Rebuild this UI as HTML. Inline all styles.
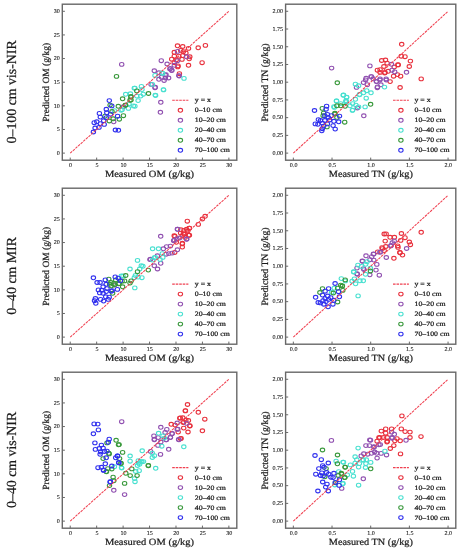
<!DOCTYPE html>
<html><head><meta charset="utf-8"><style>
html,body{margin:0;padding:0;background:#fff;width:463px;height:550px;overflow:hidden}
svg{display:block;will-change:transform;filter:blur(0.3px)}
text{font-family:"Liberation Serif",serif;fill:#1a1a1a;stroke:#1a1a1a;stroke-width:0.22px;text-rendering:geometricPrecision}
.tk text{stroke-width:0.1px}
</style></head><body>
<svg width="463" height="550" viewBox="0 0 463 550">
<g fill="none" stroke-width="1.1">
<ellipse cx="177.5" cy="45.8" rx="2.2" ry="1.9" stroke="#e8303c"/>
<ellipse cx="182.7" cy="46.5" rx="2.2" ry="1.9" stroke="#e8303c"/>
<ellipse cx="188.5" cy="48.4" rx="2.2" ry="1.9" stroke="#e8303c"/>
<ellipse cx="198.2" cy="47.8" rx="2.2" ry="1.9" stroke="#e8303c"/>
<ellipse cx="205.4" cy="45.4" rx="2.2" ry="1.9" stroke="#e8303c"/>
<ellipse cx="174.3" cy="52.3" rx="2.2" ry="1.9" stroke="#e8303c"/>
<ellipse cx="180.7" cy="50.4" rx="2.2" ry="1.9" stroke="#e8303c"/>
<ellipse cx="183.3" cy="51.7" rx="2.2" ry="1.9" stroke="#e8303c"/>
<ellipse cx="185.9" cy="53.0" rx="2.2" ry="1.9" stroke="#e8303c"/>
<ellipse cx="174.3" cy="56.2" rx="2.2" ry="1.9" stroke="#e8303c"/>
<ellipse cx="178.8" cy="56.2" rx="2.2" ry="1.9" stroke="#e8303c"/>
<ellipse cx="182.7" cy="55.6" rx="2.2" ry="1.9" stroke="#e8303c"/>
<ellipse cx="189.8" cy="56.8" rx="2.2" ry="1.9" stroke="#e8303c"/>
<ellipse cx="171.7" cy="59.2" rx="2.2" ry="1.9" stroke="#e8303c"/>
<ellipse cx="176.2" cy="60.1" rx="2.2" ry="1.9" stroke="#e8303c"/>
<ellipse cx="182.0" cy="59.4" rx="2.2" ry="1.9" stroke="#e8303c"/>
<ellipse cx="189.2" cy="58.8" rx="2.2" ry="1.9" stroke="#e8303c"/>
<ellipse cx="174.3" cy="62.7" rx="2.2" ry="1.9" stroke="#e8303c"/>
<ellipse cx="178.1" cy="65.9" rx="2.2" ry="1.9" stroke="#e8303c"/>
<ellipse cx="188.5" cy="65.3" rx="2.2" ry="1.9" stroke="#e8303c"/>
<ellipse cx="202.1" cy="62.7" rx="2.2" ry="1.9" stroke="#e8303c"/>
<ellipse cx="179.4" cy="73.7" rx="2.2" ry="1.9" stroke="#e8303c"/>
<ellipse cx="177.7" cy="66.9" rx="2.2" ry="1.9" stroke="#e8303c"/>
<ellipse cx="113.7" cy="121.8" rx="2.2" ry="1.9" stroke="#9050b0"/>
<ellipse cx="121.7" cy="64.4" rx="2.2" ry="1.9" stroke="#9050b0"/>
<ellipse cx="123.5" cy="106.8" rx="2.2" ry="1.9" stroke="#9050b0"/>
<ellipse cx="154.3" cy="70.8" rx="2.2" ry="1.9" stroke="#9050b0"/>
<ellipse cx="158.9" cy="72.8" rx="2.2" ry="1.9" stroke="#9050b0"/>
<ellipse cx="169.9" cy="68.9" rx="2.2" ry="1.9" stroke="#9050b0"/>
<ellipse cx="171.8" cy="70.2" rx="2.2" ry="1.9" stroke="#9050b0"/>
<ellipse cx="166.0" cy="74.7" rx="2.2" ry="1.9" stroke="#9050b0"/>
<ellipse cx="161.5" cy="77.3" rx="2.2" ry="1.9" stroke="#9050b0"/>
<ellipse cx="165.4" cy="78.0" rx="2.2" ry="1.9" stroke="#9050b0"/>
<ellipse cx="168.6" cy="78.0" rx="2.2" ry="1.9" stroke="#9050b0"/>
<ellipse cx="164.1" cy="80.5" rx="2.2" ry="1.9" stroke="#9050b0"/>
<ellipse cx="158.9" cy="79.3" rx="2.2" ry="1.9" stroke="#9050b0"/>
<ellipse cx="151.1" cy="84.4" rx="2.2" ry="1.9" stroke="#9050b0"/>
<ellipse cx="155.0" cy="87.7" rx="2.2" ry="1.9" stroke="#9050b0"/>
<ellipse cx="155.2" cy="87.3" rx="2.2" ry="1.9" stroke="#9050b0"/>
<ellipse cx="160.8" cy="102.3" rx="2.2" ry="1.9" stroke="#9050b0"/>
<ellipse cx="160.4" cy="112.3" rx="2.2" ry="1.9" stroke="#9050b0"/>
<ellipse cx="179.2" cy="76.0" rx="2.2" ry="1.9" stroke="#9050b0"/>
<ellipse cx="177.5" cy="51.4" rx="2.2" ry="1.9" stroke="#9050b0"/>
<ellipse cx="186.6" cy="56.8" rx="2.2" ry="1.9" stroke="#9050b0"/>
<ellipse cx="177.5" cy="60.7" rx="2.2" ry="1.9" stroke="#9050b0"/>
<ellipse cx="161.3" cy="60.7" rx="2.2" ry="1.9" stroke="#9050b0"/>
<ellipse cx="167.1" cy="64.0" rx="2.2" ry="1.9" stroke="#9050b0"/>
<ellipse cx="174.3" cy="65.3" rx="2.2" ry="1.9" stroke="#9050b0"/>
<ellipse cx="170.4" cy="68.5" rx="2.2" ry="1.9" stroke="#9050b0"/>
<ellipse cx="171.7" cy="70.5" rx="2.2" ry="1.9" stroke="#9050b0"/>
<ellipse cx="178.8" cy="75.6" rx="2.2" ry="1.9" stroke="#9050b0"/>
<ellipse cx="165.2" cy="75.0" rx="2.2" ry="1.9" stroke="#9050b0"/>
<ellipse cx="121.0" cy="110.2" rx="2.2" ry="1.9" stroke="#48e0d0"/>
<ellipse cx="114.4" cy="110.6" rx="2.2" ry="1.9" stroke="#48e0d0"/>
<ellipse cx="122.1" cy="109.7" rx="2.2" ry="1.9" stroke="#48e0d0"/>
<ellipse cx="125.7" cy="94.3" rx="2.2" ry="1.9" stroke="#48e0d0"/>
<ellipse cx="130.4" cy="93.8" rx="2.2" ry="1.9" stroke="#48e0d0"/>
<ellipse cx="134.3" cy="88.2" rx="2.2" ry="1.9" stroke="#48e0d0"/>
<ellipse cx="133.4" cy="105.9" rx="2.2" ry="1.9" stroke="#48e0d0"/>
<ellipse cx="134.9" cy="88.1" rx="2.2" ry="1.9" stroke="#48e0d0"/>
<ellipse cx="141.4" cy="86.4" rx="2.2" ry="1.9" stroke="#48e0d0"/>
<ellipse cx="142.0" cy="89.6" rx="2.2" ry="1.9" stroke="#48e0d0"/>
<ellipse cx="136.8" cy="96.1" rx="2.2" ry="1.9" stroke="#48e0d0"/>
<ellipse cx="140.7" cy="96.1" rx="2.2" ry="1.9" stroke="#48e0d0"/>
<ellipse cx="143.3" cy="94.2" rx="2.2" ry="1.9" stroke="#48e0d0"/>
<ellipse cx="138.1" cy="100.6" rx="2.2" ry="1.9" stroke="#48e0d0"/>
<ellipse cx="134.9" cy="106.2" rx="2.2" ry="1.9" stroke="#48e0d0"/>
<ellipse cx="129.0" cy="103.9" rx="2.2" ry="1.9" stroke="#48e0d0"/>
<ellipse cx="128.4" cy="108.4" rx="2.2" ry="1.9" stroke="#48e0d0"/>
<ellipse cx="155.0" cy="75.4" rx="2.2" ry="1.9" stroke="#48e0d0"/>
<ellipse cx="162.8" cy="73.4" rx="2.2" ry="1.9" stroke="#48e0d0"/>
<ellipse cx="152.4" cy="84.4" rx="2.2" ry="1.9" stroke="#48e0d0"/>
<ellipse cx="163.4" cy="89.6" rx="2.2" ry="1.9" stroke="#48e0d0"/>
<ellipse cx="155.6" cy="95.5" rx="2.2" ry="1.9" stroke="#48e0d0"/>
<ellipse cx="155.2" cy="95.1" rx="2.2" ry="1.9" stroke="#48e0d0"/>
<ellipse cx="163.6" cy="89.9" rx="2.2" ry="1.9" stroke="#48e0d0"/>
<ellipse cx="184.0" cy="78.4" rx="2.2" ry="1.9" stroke="#48e0d0"/>
<ellipse cx="162.0" cy="73.0" rx="2.2" ry="1.9" stroke="#48e0d0"/>
<ellipse cx="110.1" cy="105.1" rx="2.2" ry="1.9" stroke="#38983a"/>
<ellipse cx="122.6" cy="98.8" rx="2.2" ry="1.9" stroke="#38983a"/>
<ellipse cx="118.3" cy="106.3" rx="2.2" ry="1.9" stroke="#38983a"/>
<ellipse cx="125.7" cy="105.1" rx="2.2" ry="1.9" stroke="#38983a"/>
<ellipse cx="130.9" cy="96.8" rx="2.2" ry="1.9" stroke="#38983a"/>
<ellipse cx="130.0" cy="100.3" rx="2.2" ry="1.9" stroke="#38983a"/>
<ellipse cx="109.3" cy="121.0" rx="2.2" ry="1.9" stroke="#38983a"/>
<ellipse cx="113.2" cy="118.8" rx="2.2" ry="1.9" stroke="#38983a"/>
<ellipse cx="119.3" cy="119.2" rx="2.2" ry="1.9" stroke="#38983a"/>
<ellipse cx="105.0" cy="116.2" rx="2.2" ry="1.9" stroke="#38983a"/>
<ellipse cx="112.0" cy="111.5" rx="2.2" ry="1.9" stroke="#38983a"/>
<ellipse cx="123.4" cy="115.7" rx="2.2" ry="1.9" stroke="#38983a"/>
<ellipse cx="116.5" cy="76.4" rx="2.2" ry="1.9" stroke="#38983a"/>
<ellipse cx="136.8" cy="90.9" rx="2.2" ry="1.9" stroke="#38983a"/>
<ellipse cx="148.5" cy="93.5" rx="2.2" ry="1.9" stroke="#38983a"/>
<ellipse cx="131.0" cy="96.7" rx="2.2" ry="1.9" stroke="#38983a"/>
<ellipse cx="131.0" cy="100.0" rx="2.2" ry="1.9" stroke="#38983a"/>
<ellipse cx="125.2" cy="105.2" rx="2.2" ry="1.9" stroke="#38983a"/>
<ellipse cx="106.3" cy="109.3" rx="2.2" ry="1.9" stroke="#3030ee"/>
<ellipse cx="106.8" cy="112.8" rx="2.2" ry="1.9" stroke="#3030ee"/>
<ellipse cx="99.4" cy="113.4" rx="2.2" ry="1.9" stroke="#3030ee"/>
<ellipse cx="110.5" cy="114.2" rx="2.2" ry="1.9" stroke="#3030ee"/>
<ellipse cx="100.3" cy="117.1" rx="2.2" ry="1.9" stroke="#3030ee"/>
<ellipse cx="106.3" cy="117.7" rx="2.2" ry="1.9" stroke="#3030ee"/>
<ellipse cx="117.6" cy="116.2" rx="2.2" ry="1.9" stroke="#3030ee"/>
<ellipse cx="94.2" cy="122.7" rx="2.2" ry="1.9" stroke="#3030ee"/>
<ellipse cx="96.8" cy="121.8" rx="2.2" ry="1.9" stroke="#3030ee"/>
<ellipse cx="100.3" cy="123.6" rx="2.2" ry="1.9" stroke="#3030ee"/>
<ellipse cx="103.7" cy="120.8" rx="2.2" ry="1.9" stroke="#3030ee"/>
<ellipse cx="104.2" cy="124.4" rx="2.2" ry="1.9" stroke="#3030ee"/>
<ellipse cx="95.1" cy="128.0" rx="2.2" ry="1.9" stroke="#3030ee"/>
<ellipse cx="99.0" cy="127.4" rx="2.2" ry="1.9" stroke="#3030ee"/>
<ellipse cx="93.4" cy="132.0" rx="2.2" ry="1.9" stroke="#3030ee"/>
<ellipse cx="115.4" cy="130.0" rx="2.2" ry="1.9" stroke="#3030ee"/>
<ellipse cx="118.4" cy="130.3" rx="2.2" ry="1.9" stroke="#3030ee"/>
<ellipse cx="109.3" cy="100.6" rx="2.2" ry="1.9" stroke="#3030ee"/>
<ellipse cx="111.8" cy="105.9" rx="2.2" ry="1.9" stroke="#3030ee"/>
</g>
<line x1="70.23" y1="153.11" x2="228.87" y2="11.29" stroke="#f04050" stroke-width="1.05" stroke-dasharray="2.6 0.9"/>
<rect x="62.30" y="4.20" width="174.50" height="156.00" fill="none" stroke="#686868" stroke-width="1.4"/>
<g stroke="#686868" stroke-width="1.0">
<line x1="70.23" y1="160.20" x2="70.23" y2="157.60"/>
<line x1="96.67" y1="160.20" x2="96.67" y2="157.60"/>
<line x1="123.11" y1="160.20" x2="123.11" y2="157.60"/>
<line x1="149.55" y1="160.20" x2="149.55" y2="157.60"/>
<line x1="175.99" y1="160.20" x2="175.99" y2="157.60"/>
<line x1="202.43" y1="160.20" x2="202.43" y2="157.60"/>
<line x1="228.87" y1="160.20" x2="228.87" y2="157.60"/>
<line x1="62.30" y1="153.11" x2="64.90" y2="153.11"/>
<line x1="62.30" y1="129.47" x2="64.90" y2="129.47"/>
<line x1="62.30" y1="105.84" x2="64.90" y2="105.84"/>
<line x1="62.30" y1="82.20" x2="64.90" y2="82.20"/>
<line x1="62.30" y1="58.56" x2="64.90" y2="58.56"/>
<line x1="62.30" y1="34.93" x2="64.90" y2="34.93"/>
<line x1="62.30" y1="11.29" x2="64.90" y2="11.29"/>
</g>
<g font-size="5.9" text-anchor="middle" class="tk">
<text transform="translate(70.53,166.70) scale(1.03,1)">0</text>
<text transform="translate(96.97,166.70) scale(1.03,1)">5</text>
<text transform="translate(123.41,166.70) scale(1.03,1)">10</text>
<text transform="translate(149.85,166.70) scale(1.03,1)">15</text>
<text transform="translate(176.29,166.70) scale(1.03,1)">20</text>
<text transform="translate(202.73,166.70) scale(1.03,1)">25</text>
<text transform="translate(229.17,166.70) scale(1.03,1)">30</text>
</g><g font-size="5.9" text-anchor="end" class="tk">
<text transform="translate(59.70,154.91) scale(1.03,1)">0</text>
<text transform="translate(59.70,131.27) scale(1.03,1)">5</text>
<text transform="translate(59.70,107.64) scale(1.03,1)">10</text>
<text transform="translate(59.70,84.00) scale(1.03,1)">15</text>
<text transform="translate(59.70,60.36) scale(1.03,1)">20</text>
<text transform="translate(59.70,36.73) scale(1.03,1)">25</text>
<text transform="translate(59.70,13.09) scale(1.03,1)">30</text>
</g>
<text transform="translate(149.45,176.90) scale(1.104,1)" font-size="9.5" text-anchor="middle">Measured OM (g/kg)</text>
<text transform="translate(48.60,82.30) rotate(-90) scale(1,1.0)" font-size="9.46" text-anchor="middle">Predicted OM (g/kg)</text>
<line x1="172.20" y1="100.30" x2="188.40" y2="100.30" stroke="#f04050" stroke-width="1.05" stroke-dasharray="2.6 0.9"/>
<g font-size="6.7"><text transform="translate(194.80,102.20) scale(1.17,1)">y = x</text>
<text transform="translate(194.80,112.20) scale(1.17,1)">0–10 cm</text>
<text transform="translate(194.80,122.20) scale(1.17,1)">10–20 cm</text>
<text transform="translate(194.80,132.20) scale(1.17,1)">20–40 cm</text>
<text transform="translate(194.80,142.20) scale(1.17,1)">40–70 cm</text>
<text transform="translate(194.80,152.20) scale(1.17,1)">70–100 cm</text>
</g><g fill="none" stroke-width="1.1">
<ellipse cx="180.4" cy="110.3" rx="2.2" ry="1.9" stroke="#e8303c"/>
<ellipse cx="180.4" cy="120.3" rx="2.2" ry="1.9" stroke="#9050b0"/>
<ellipse cx="180.4" cy="130.3" rx="2.2" ry="1.9" stroke="#48e0d0"/>
<ellipse cx="180.4" cy="140.3" rx="2.2" ry="1.9" stroke="#38983a"/>
<ellipse cx="180.4" cy="150.3" rx="2.2" ry="1.9" stroke="#3030ee"/>
</g>
<g fill="none" stroke-width="1.1">
<ellipse cx="401.7" cy="44.3" rx="2.2" ry="1.9" stroke="#e8303c"/>
<ellipse cx="401.2" cy="56.2" rx="2.2" ry="1.9" stroke="#e8303c"/>
<ellipse cx="405.0" cy="56.7" rx="2.2" ry="1.9" stroke="#e8303c"/>
<ellipse cx="410.4" cy="61.1" rx="2.2" ry="1.9" stroke="#e8303c"/>
<ellipse cx="409.3" cy="66.5" rx="2.2" ry="1.9" stroke="#e8303c"/>
<ellipse cx="381.7" cy="60.5" rx="2.2" ry="1.9" stroke="#e8303c"/>
<ellipse cx="385.5" cy="60.0" rx="2.2" ry="1.9" stroke="#e8303c"/>
<ellipse cx="387.1" cy="63.2" rx="2.2" ry="1.9" stroke="#e8303c"/>
<ellipse cx="383.9" cy="66.5" rx="2.2" ry="1.9" stroke="#e8303c"/>
<ellipse cx="394.2" cy="67.0" rx="2.2" ry="1.9" stroke="#e8303c"/>
<ellipse cx="397.9" cy="64.8" rx="2.2" ry="1.9" stroke="#e8303c"/>
<ellipse cx="377.4" cy="70.2" rx="2.2" ry="1.9" stroke="#e8303c"/>
<ellipse cx="380.1" cy="69.7" rx="2.2" ry="1.9" stroke="#e8303c"/>
<ellipse cx="380.1" cy="72.4" rx="2.2" ry="1.9" stroke="#e8303c"/>
<ellipse cx="385.0" cy="72.4" rx="2.2" ry="1.9" stroke="#e8303c"/>
<ellipse cx="388.2" cy="71.3" rx="2.2" ry="1.9" stroke="#e8303c"/>
<ellipse cx="393.6" cy="76.2" rx="2.2" ry="1.9" stroke="#e8303c"/>
<ellipse cx="397.4" cy="74.6" rx="2.2" ry="1.9" stroke="#e8303c"/>
<ellipse cx="400.6" cy="76.2" rx="2.2" ry="1.9" stroke="#e8303c"/>
<ellipse cx="421.2" cy="78.9" rx="2.2" ry="1.9" stroke="#e8303c"/>
<ellipse cx="400.1" cy="87.5" rx="2.2" ry="1.9" stroke="#e8303c"/>
<ellipse cx="390.1" cy="81.6" rx="2.2" ry="1.9" stroke="#e8303c"/>
<ellipse cx="398.2" cy="64.9" rx="2.2" ry="1.9" stroke="#e8303c"/>
<ellipse cx="384.7" cy="73.0" rx="2.2" ry="1.9" stroke="#e8303c"/>
<ellipse cx="363.8" cy="115.8" rx="2.2" ry="1.9" stroke="#9050b0"/>
<ellipse cx="357.4" cy="108.0" rx="2.2" ry="1.9" stroke="#9050b0"/>
<ellipse cx="377.3" cy="87.7" rx="2.2" ry="1.9" stroke="#9050b0"/>
<ellipse cx="331.6" cy="68.1" rx="2.2" ry="1.9" stroke="#9050b0"/>
<ellipse cx="363.5" cy="82.6" rx="2.2" ry="1.9" stroke="#9050b0"/>
<ellipse cx="365.6" cy="79.9" rx="2.2" ry="1.9" stroke="#9050b0"/>
<ellipse cx="367.3" cy="84.7" rx="2.2" ry="1.9" stroke="#9050b0"/>
<ellipse cx="356.5" cy="87.4" rx="2.2" ry="1.9" stroke="#9050b0"/>
<ellipse cx="371.0" cy="76.6" rx="2.2" ry="1.9" stroke="#9050b0"/>
<ellipse cx="373.2" cy="78.8" rx="2.2" ry="1.9" stroke="#9050b0"/>
<ellipse cx="376.4" cy="81.5" rx="2.2" ry="1.9" stroke="#9050b0"/>
<ellipse cx="377.5" cy="86.9" rx="2.2" ry="1.9" stroke="#9050b0"/>
<ellipse cx="369.9" cy="65.9" rx="2.2" ry="1.9" stroke="#9050b0"/>
<ellipse cx="391.5" cy="64.3" rx="2.2" ry="1.9" stroke="#9050b0"/>
<ellipse cx="392.0" cy="70.2" rx="2.2" ry="1.9" stroke="#9050b0"/>
<ellipse cx="394.7" cy="71.9" rx="2.2" ry="1.9" stroke="#9050b0"/>
<ellipse cx="406.5" cy="72.3" rx="2.2" ry="1.9" stroke="#9050b0"/>
<ellipse cx="371.5" cy="76.7" rx="2.2" ry="1.9" stroke="#9050b0"/>
<ellipse cx="380.1" cy="78.9" rx="2.2" ry="1.9" stroke="#9050b0"/>
<ellipse cx="386.1" cy="78.9" rx="2.2" ry="1.9" stroke="#9050b0"/>
<ellipse cx="366.1" cy="78.3" rx="2.2" ry="1.9" stroke="#9050b0"/>
<ellipse cx="379.9" cy="80.0" rx="2.2" ry="1.9" stroke="#9050b0"/>
<ellipse cx="386.3" cy="80.0" rx="2.2" ry="1.9" stroke="#9050b0"/>
<ellipse cx="376.6" cy="81.6" rx="2.2" ry="1.9" stroke="#9050b0"/>
<ellipse cx="380.9" cy="84.8" rx="2.2" ry="1.9" stroke="#9050b0"/>
<ellipse cx="336.5" cy="101.0" rx="2.2" ry="1.9" stroke="#48e0d0"/>
<ellipse cx="333.9" cy="106.6" rx="2.2" ry="1.9" stroke="#48e0d0"/>
<ellipse cx="346.0" cy="100.6" rx="2.2" ry="1.9" stroke="#48e0d0"/>
<ellipse cx="355.4" cy="84.2" rx="2.2" ry="1.9" stroke="#48e0d0"/>
<ellipse cx="358.6" cy="85.8" rx="2.2" ry="1.9" stroke="#48e0d0"/>
<ellipse cx="343.5" cy="95.0" rx="2.2" ry="1.9" stroke="#48e0d0"/>
<ellipse cx="346.7" cy="97.1" rx="2.2" ry="1.9" stroke="#48e0d0"/>
<ellipse cx="336.5" cy="100.9" rx="2.2" ry="1.9" stroke="#48e0d0"/>
<ellipse cx="340.8" cy="103.6" rx="2.2" ry="1.9" stroke="#48e0d0"/>
<ellipse cx="346.2" cy="101.5" rx="2.2" ry="1.9" stroke="#48e0d0"/>
<ellipse cx="355.4" cy="99.3" rx="2.2" ry="1.9" stroke="#48e0d0"/>
<ellipse cx="352.7" cy="103.6" rx="2.2" ry="1.9" stroke="#48e0d0"/>
<ellipse cx="350.0" cy="105.8" rx="2.2" ry="1.9" stroke="#48e0d0"/>
<ellipse cx="355.9" cy="105.2" rx="2.2" ry="1.9" stroke="#48e0d0"/>
<ellipse cx="358.6" cy="106.9" rx="2.2" ry="1.9" stroke="#48e0d0"/>
<ellipse cx="352.7" cy="110.1" rx="2.2" ry="1.9" stroke="#48e0d0"/>
<ellipse cx="359.7" cy="94.4" rx="2.2" ry="1.9" stroke="#48e0d0"/>
<ellipse cx="363.5" cy="92.8" rx="2.2" ry="1.9" stroke="#48e0d0"/>
<ellipse cx="366.7" cy="90.7" rx="2.2" ry="1.9" stroke="#48e0d0"/>
<ellipse cx="371.0" cy="92.8" rx="2.2" ry="1.9" stroke="#48e0d0"/>
<ellipse cx="366.2" cy="98.2" rx="2.2" ry="1.9" stroke="#48e0d0"/>
<ellipse cx="365.1" cy="106.9" rx="2.2" ry="1.9" stroke="#48e0d0"/>
<ellipse cx="334.3" cy="107.4" rx="2.2" ry="1.9" stroke="#48e0d0"/>
<ellipse cx="359.4" cy="94.7" rx="2.2" ry="1.9" stroke="#48e0d0"/>
<ellipse cx="343.2" cy="95.3" rx="2.2" ry="1.9" stroke="#48e0d0"/>
<ellipse cx="346.5" cy="97.4" rx="2.2" ry="1.9" stroke="#48e0d0"/>
<ellipse cx="345.9" cy="101.7" rx="2.2" ry="1.9" stroke="#48e0d0"/>
<ellipse cx="384.5" cy="87.1" rx="2.2" ry="1.9" stroke="#48e0d0"/>
<ellipse cx="352.4" cy="110.4" rx="2.2" ry="1.9" stroke="#48e0d0"/>
<ellipse cx="322.3" cy="108.4" rx="2.2" ry="1.9" stroke="#38983a"/>
<ellipse cx="323.6" cy="113.1" rx="2.2" ry="1.9" stroke="#38983a"/>
<ellipse cx="323.1" cy="115.7" rx="2.2" ry="1.9" stroke="#38983a"/>
<ellipse cx="334.8" cy="114.0" rx="2.2" ry="1.9" stroke="#38983a"/>
<ellipse cx="336.9" cy="117.4" rx="2.2" ry="1.9" stroke="#38983a"/>
<ellipse cx="336.9" cy="105.8" rx="2.2" ry="1.9" stroke="#38983a"/>
<ellipse cx="340.8" cy="105.8" rx="2.2" ry="1.9" stroke="#38983a"/>
<ellipse cx="344.7" cy="122.2" rx="2.2" ry="1.9" stroke="#38983a"/>
<ellipse cx="327.0" cy="126.9" rx="2.2" ry="1.9" stroke="#38983a"/>
<ellipse cx="337.3" cy="82.8" rx="2.2" ry="1.9" stroke="#38983a"/>
<ellipse cx="370.6" cy="104.3" rx="2.2" ry="1.9" stroke="#38983a"/>
<ellipse cx="345.1" cy="106.3" rx="2.2" ry="1.9" stroke="#38983a"/>
<ellipse cx="334.9" cy="113.3" rx="2.2" ry="1.9" stroke="#38983a"/>
<ellipse cx="314.5" cy="110.5" rx="2.2" ry="1.9" stroke="#3030ee"/>
<ellipse cx="326.6" cy="106.2" rx="2.2" ry="1.9" stroke="#3030ee"/>
<ellipse cx="326.1" cy="109.2" rx="2.2" ry="1.9" stroke="#3030ee"/>
<ellipse cx="327.4" cy="114.4" rx="2.2" ry="1.9" stroke="#3030ee"/>
<ellipse cx="324.8" cy="115.7" rx="2.2" ry="1.9" stroke="#3030ee"/>
<ellipse cx="331.3" cy="115.7" rx="2.2" ry="1.9" stroke="#3030ee"/>
<ellipse cx="328.3" cy="117.4" rx="2.2" ry="1.9" stroke="#3030ee"/>
<ellipse cx="339.5" cy="116.1" rx="2.2" ry="1.9" stroke="#3030ee"/>
<ellipse cx="318.4" cy="119.6" rx="2.2" ry="1.9" stroke="#3030ee"/>
<ellipse cx="320.5" cy="120.5" rx="2.2" ry="1.9" stroke="#3030ee"/>
<ellipse cx="324.8" cy="120.5" rx="2.2" ry="1.9" stroke="#3030ee"/>
<ellipse cx="329.6" cy="120.0" rx="2.2" ry="1.9" stroke="#3030ee"/>
<ellipse cx="333.9" cy="121.3" rx="2.2" ry="1.9" stroke="#3030ee"/>
<ellipse cx="338.7" cy="121.8" rx="2.2" ry="1.9" stroke="#3030ee"/>
<ellipse cx="315.3" cy="123.9" rx="2.2" ry="1.9" stroke="#3030ee"/>
<ellipse cx="317.9" cy="124.3" rx="2.2" ry="1.9" stroke="#3030ee"/>
<ellipse cx="322.3" cy="123.1" rx="2.2" ry="1.9" stroke="#3030ee"/>
<ellipse cx="327.4" cy="123.9" rx="2.2" ry="1.9" stroke="#3030ee"/>
<ellipse cx="333.1" cy="125.6" rx="2.2" ry="1.9" stroke="#3030ee"/>
<ellipse cx="323.6" cy="126.1" rx="2.2" ry="1.9" stroke="#3030ee"/>
<ellipse cx="322.3" cy="128.7" rx="2.2" ry="1.9" stroke="#3030ee"/>
<ellipse cx="321.8" cy="130.8" rx="2.2" ry="1.9" stroke="#3030ee"/>
<ellipse cx="335.2" cy="129.1" rx="2.2" ry="1.9" stroke="#3030ee"/>
</g>
<line x1="293.34" y1="153.11" x2="448.06" y2="11.29" stroke="#f04050" stroke-width="1.05" stroke-dasharray="2.6 0.9"/>
<rect x="285.60" y="4.20" width="170.20" height="156.00" fill="none" stroke="#686868" stroke-width="1.4"/>
<g stroke="#686868" stroke-width="1.0">
<line x1="293.34" y1="160.20" x2="293.34" y2="157.60"/>
<line x1="332.02" y1="160.20" x2="332.02" y2="157.60"/>
<line x1="370.70" y1="160.20" x2="370.70" y2="157.60"/>
<line x1="409.38" y1="160.20" x2="409.38" y2="157.60"/>
<line x1="448.06" y1="160.20" x2="448.06" y2="157.60"/>
<line x1="285.60" y1="153.11" x2="288.20" y2="153.11"/>
<line x1="285.60" y1="135.38" x2="288.20" y2="135.38"/>
<line x1="285.60" y1="117.65" x2="288.20" y2="117.65"/>
<line x1="285.60" y1="99.93" x2="288.20" y2="99.93"/>
<line x1="285.60" y1="82.20" x2="288.20" y2="82.20"/>
<line x1="285.60" y1="64.47" x2="288.20" y2="64.47"/>
<line x1="285.60" y1="46.75" x2="288.20" y2="46.75"/>
<line x1="285.60" y1="29.02" x2="288.20" y2="29.02"/>
<line x1="285.60" y1="11.29" x2="288.20" y2="11.29"/>
</g>
<g font-size="5.9" text-anchor="middle" class="tk">
<text transform="translate(293.64,166.70) scale(1.03,1)">0.0</text>
<text transform="translate(332.32,166.70) scale(1.03,1)">0.5</text>
<text transform="translate(371.00,166.70) scale(1.03,1)">1.0</text>
<text transform="translate(409.68,166.70) scale(1.03,1)">1.5</text>
<text transform="translate(448.36,166.70) scale(1.03,1)">2.0</text>
</g><g font-size="5.9" text-anchor="end" class="tk">
<text transform="translate(283.00,154.91) scale(1.03,1)">0.00</text>
<text transform="translate(283.00,137.18) scale(1.03,1)">0.25</text>
<text transform="translate(283.00,119.45) scale(1.03,1)">0.50</text>
<text transform="translate(283.00,101.73) scale(1.03,1)">0.75</text>
<text transform="translate(283.00,84.00) scale(1.03,1)">1.00</text>
<text transform="translate(283.00,66.27) scale(1.03,1)">1.25</text>
<text transform="translate(283.00,48.55) scale(1.03,1)">1.50</text>
<text transform="translate(283.00,30.82) scale(1.03,1)">1.75</text>
<text transform="translate(283.00,13.09) scale(1.03,1)">2.00</text>
</g>
<text transform="translate(370.80,176.90) scale(1.078,1)" font-size="9.5" text-anchor="middle">Measured TN (g/kg)</text>
<text transform="translate(268.20,82.50) rotate(-90) scale(1,1.0)" font-size="9.73" text-anchor="middle">Predicted TN (g/kg)</text>
<line x1="393.00" y1="100.30" x2="408.90" y2="100.30" stroke="#f04050" stroke-width="1.05" stroke-dasharray="2.6 0.9"/>
<g font-size="6.7"><text transform="translate(414.50,102.20) scale(1.17,1)">y = x</text>
<text transform="translate(414.50,112.20) scale(1.17,1)">0–10 cm</text>
<text transform="translate(414.50,122.20) scale(1.17,1)">10–20 cm</text>
<text transform="translate(414.50,132.20) scale(1.17,1)">20–40 cm</text>
<text transform="translate(414.50,142.20) scale(1.17,1)">40–70 cm</text>
<text transform="translate(414.50,152.20) scale(1.17,1)">70–100 cm</text>
</g><g fill="none" stroke-width="1.1">
<ellipse cx="400.9" cy="110.3" rx="2.2" ry="1.9" stroke="#e8303c"/>
<ellipse cx="400.9" cy="120.3" rx="2.2" ry="1.9" stroke="#9050b0"/>
<ellipse cx="400.9" cy="130.3" rx="2.2" ry="1.9" stroke="#48e0d0"/>
<ellipse cx="400.9" cy="140.3" rx="2.2" ry="1.9" stroke="#38983a"/>
<ellipse cx="400.9" cy="150.3" rx="2.2" ry="1.9" stroke="#3030ee"/>
</g>
<text transform="translate(16.4,91.90) rotate(-90)" font-size="13.85" text-anchor="middle">0–100 cm vis-NIR</text>
<g fill="none" stroke-width="1.1">
<ellipse cx="174.2" cy="235.8" rx="2.2" ry="1.9" stroke="#e8303c"/>
<ellipse cx="180.6" cy="233.1" rx="2.2" ry="1.9" stroke="#e8303c"/>
<ellipse cx="183.9" cy="230.4" rx="2.2" ry="1.9" stroke="#e8303c"/>
<ellipse cx="186.6" cy="229.3" rx="2.2" ry="1.9" stroke="#e8303c"/>
<ellipse cx="189.3" cy="228.2" rx="2.2" ry="1.9" stroke="#e8303c"/>
<ellipse cx="182.3" cy="235.8" rx="2.2" ry="1.9" stroke="#e8303c"/>
<ellipse cx="184.4" cy="234.2" rx="2.2" ry="1.9" stroke="#e8303c"/>
<ellipse cx="188.7" cy="235.3" rx="2.2" ry="1.9" stroke="#e8303c"/>
<ellipse cx="182.3" cy="243.9" rx="2.2" ry="1.9" stroke="#e8303c"/>
<ellipse cx="182.3" cy="247.1" rx="2.2" ry="1.9" stroke="#e8303c"/>
<ellipse cx="174.7" cy="252.5" rx="2.2" ry="1.9" stroke="#e8303c"/>
<ellipse cx="176.3" cy="242.3" rx="2.2" ry="1.9" stroke="#e8303c"/>
<ellipse cx="187.3" cy="221.2" rx="2.2" ry="1.9" stroke="#e8303c"/>
<ellipse cx="198.3" cy="224.4" rx="2.2" ry="1.9" stroke="#e8303c"/>
<ellipse cx="202.4" cy="219.0" rx="2.2" ry="1.9" stroke="#e8303c"/>
<ellipse cx="205.1" cy="216.3" rx="2.2" ry="1.9" stroke="#e8303c"/>
<ellipse cx="180.8" cy="229.8" rx="2.2" ry="1.9" stroke="#e8303c"/>
<ellipse cx="189.4" cy="228.2" rx="2.2" ry="1.9" stroke="#e8303c"/>
<ellipse cx="187.8" cy="230.9" rx="2.2" ry="1.9" stroke="#e8303c"/>
<ellipse cx="183.5" cy="233.6" rx="2.2" ry="1.9" stroke="#e8303c"/>
<ellipse cx="189.4" cy="235.2" rx="2.2" ry="1.9" stroke="#e8303c"/>
<ellipse cx="174.9" cy="236.3" rx="2.2" ry="1.9" stroke="#e8303c"/>
<ellipse cx="185.1" cy="237.4" rx="2.2" ry="1.9" stroke="#e8303c"/>
<ellipse cx="182.4" cy="243.3" rx="2.2" ry="1.9" stroke="#e8303c"/>
<ellipse cx="114.8" cy="285.1" rx="2.2" ry="1.9" stroke="#9050b0"/>
<ellipse cx="150.5" cy="259.3" rx="2.2" ry="1.9" stroke="#9050b0"/>
<ellipse cx="154.3" cy="265.8" rx="2.2" ry="1.9" stroke="#9050b0"/>
<ellipse cx="157.5" cy="269.0" rx="2.2" ry="1.9" stroke="#9050b0"/>
<ellipse cx="160.7" cy="236.3" rx="2.2" ry="1.9" stroke="#9050b0"/>
<ellipse cx="177.4" cy="229.3" rx="2.2" ry="1.9" stroke="#9050b0"/>
<ellipse cx="186.6" cy="239.0" rx="2.2" ry="1.9" stroke="#9050b0"/>
<ellipse cx="173.6" cy="240.7" rx="2.2" ry="1.9" stroke="#9050b0"/>
<ellipse cx="176.9" cy="239.0" rx="2.2" ry="1.9" stroke="#9050b0"/>
<ellipse cx="179.6" cy="238.0" rx="2.2" ry="1.9" stroke="#9050b0"/>
<ellipse cx="170.4" cy="246.1" rx="2.2" ry="1.9" stroke="#9050b0"/>
<ellipse cx="166.6" cy="246.6" rx="2.2" ry="1.9" stroke="#9050b0"/>
<ellipse cx="163.4" cy="248.8" rx="2.2" ry="1.9" stroke="#9050b0"/>
<ellipse cx="177.4" cy="249.8" rx="2.2" ry="1.9" stroke="#9050b0"/>
<ellipse cx="172.0" cy="253.1" rx="2.2" ry="1.9" stroke="#9050b0"/>
<ellipse cx="168.8" cy="253.6" rx="2.2" ry="1.9" stroke="#9050b0"/>
<ellipse cx="166.1" cy="254.2" rx="2.2" ry="1.9" stroke="#9050b0"/>
<ellipse cx="157.4" cy="255.8" rx="2.2" ry="1.9" stroke="#9050b0"/>
<ellipse cx="149.9" cy="259.6" rx="2.2" ry="1.9" stroke="#9050b0"/>
<ellipse cx="160.7" cy="263.3" rx="2.2" ry="1.9" stroke="#9050b0"/>
<ellipse cx="177.6" cy="229.3" rx="2.2" ry="1.9" stroke="#9050b0"/>
<ellipse cx="186.7" cy="239.3" rx="2.2" ry="1.9" stroke="#9050b0"/>
<ellipse cx="174.3" cy="240.1" rx="2.2" ry="1.9" stroke="#9050b0"/>
<ellipse cx="121.3" cy="276.0" rx="2.2" ry="1.9" stroke="#48e0d0"/>
<ellipse cx="137.5" cy="260.4" rx="2.2" ry="1.9" stroke="#48e0d0"/>
<ellipse cx="130.0" cy="269.0" rx="2.2" ry="1.9" stroke="#48e0d0"/>
<ellipse cx="141.3" cy="265.8" rx="2.2" ry="1.9" stroke="#48e0d0"/>
<ellipse cx="142.9" cy="266.3" rx="2.2" ry="1.9" stroke="#48e0d0"/>
<ellipse cx="139.7" cy="269.0" rx="2.2" ry="1.9" stroke="#48e0d0"/>
<ellipse cx="135.4" cy="275.5" rx="2.2" ry="1.9" stroke="#48e0d0"/>
<ellipse cx="138.1" cy="277.1" rx="2.2" ry="1.9" stroke="#48e0d0"/>
<ellipse cx="141.9" cy="277.7" rx="2.2" ry="1.9" stroke="#48e0d0"/>
<ellipse cx="134.3" cy="277.7" rx="2.2" ry="1.9" stroke="#48e0d0"/>
<ellipse cx="134.8" cy="287.9" rx="2.2" ry="1.9" stroke="#48e0d0"/>
<ellipse cx="123.0" cy="276.0" rx="2.2" ry="1.9" stroke="#48e0d0"/>
<ellipse cx="154.3" cy="257.7" rx="2.2" ry="1.9" stroke="#48e0d0"/>
<ellipse cx="152.6" cy="248.8" rx="2.2" ry="1.9" stroke="#48e0d0"/>
<ellipse cx="158.5" cy="248.8" rx="2.2" ry="1.9" stroke="#48e0d0"/>
<ellipse cx="162.3" cy="253.6" rx="2.2" ry="1.9" stroke="#48e0d0"/>
<ellipse cx="155.3" cy="257.4" rx="2.2" ry="1.9" stroke="#48e0d0"/>
<ellipse cx="162.8" cy="257.4" rx="2.2" ry="1.9" stroke="#48e0d0"/>
<ellipse cx="152.6" cy="260.1" rx="2.2" ry="1.9" stroke="#48e0d0"/>
<ellipse cx="160.1" cy="259.6" rx="2.2" ry="1.9" stroke="#48e0d0"/>
<ellipse cx="108.8" cy="279.1" rx="2.2" ry="1.9" stroke="#38983a"/>
<ellipse cx="110.9" cy="282.5" rx="2.2" ry="1.9" stroke="#38983a"/>
<ellipse cx="109.6" cy="284.3" rx="2.2" ry="1.9" stroke="#38983a"/>
<ellipse cx="111.3" cy="286.0" rx="2.2" ry="1.9" stroke="#38983a"/>
<ellipse cx="113.9" cy="283.4" rx="2.2" ry="1.9" stroke="#38983a"/>
<ellipse cx="112.6" cy="293.3" rx="2.2" ry="1.9" stroke="#38983a"/>
<ellipse cx="118.7" cy="283.8" rx="2.2" ry="1.9" stroke="#38983a"/>
<ellipse cx="115.7" cy="279.9" rx="2.2" ry="1.9" stroke="#38983a"/>
<ellipse cx="122.1" cy="281.2" rx="2.2" ry="1.9" stroke="#38983a"/>
<ellipse cx="122.6" cy="286.8" rx="2.2" ry="1.9" stroke="#38983a"/>
<ellipse cx="125.7" cy="275.5" rx="2.2" ry="1.9" stroke="#38983a"/>
<ellipse cx="124.6" cy="280.9" rx="2.2" ry="1.9" stroke="#38983a"/>
<ellipse cx="119.2" cy="283.6" rx="2.2" ry="1.9" stroke="#38983a"/>
<ellipse cx="114.3" cy="284.7" rx="2.2" ry="1.9" stroke="#38983a"/>
<ellipse cx="131.1" cy="280.9" rx="2.2" ry="1.9" stroke="#38983a"/>
<ellipse cx="130.0" cy="283.1" rx="2.2" ry="1.9" stroke="#38983a"/>
<ellipse cx="137.5" cy="271.7" rx="2.2" ry="1.9" stroke="#38983a"/>
<ellipse cx="148.3" cy="270.1" rx="2.2" ry="1.9" stroke="#38983a"/>
<ellipse cx="93.4" cy="277.8" rx="2.2" ry="1.9" stroke="#3030ee"/>
<ellipse cx="97.1" cy="282.5" rx="2.2" ry="1.9" stroke="#3030ee"/>
<ellipse cx="100.1" cy="282.5" rx="2.2" ry="1.9" stroke="#3030ee"/>
<ellipse cx="105.3" cy="279.9" rx="2.2" ry="1.9" stroke="#3030ee"/>
<ellipse cx="106.2" cy="284.3" rx="2.2" ry="1.9" stroke="#3030ee"/>
<ellipse cx="103.1" cy="286.8" rx="2.2" ry="1.9" stroke="#3030ee"/>
<ellipse cx="107.0" cy="288.6" rx="2.2" ry="1.9" stroke="#3030ee"/>
<ellipse cx="98.4" cy="289.9" rx="2.2" ry="1.9" stroke="#3030ee"/>
<ellipse cx="101.8" cy="290.3" rx="2.2" ry="1.9" stroke="#3030ee"/>
<ellipse cx="99.7" cy="292.9" rx="2.2" ry="1.9" stroke="#3030ee"/>
<ellipse cx="103.1" cy="293.3" rx="2.2" ry="1.9" stroke="#3030ee"/>
<ellipse cx="106.2" cy="291.6" rx="2.2" ry="1.9" stroke="#3030ee"/>
<ellipse cx="111.3" cy="291.2" rx="2.2" ry="1.9" stroke="#3030ee"/>
<ellipse cx="105.7" cy="296.8" rx="2.2" ry="1.9" stroke="#3030ee"/>
<ellipse cx="109.2" cy="297.2" rx="2.2" ry="1.9" stroke="#3030ee"/>
<ellipse cx="95.4" cy="298.5" rx="2.2" ry="1.9" stroke="#3030ee"/>
<ellipse cx="100.6" cy="299.4" rx="2.2" ry="1.9" stroke="#3030ee"/>
<ellipse cx="94.5" cy="300.7" rx="2.2" ry="1.9" stroke="#3030ee"/>
<ellipse cx="103.6" cy="301.1" rx="2.2" ry="1.9" stroke="#3030ee"/>
<ellipse cx="108.3" cy="299.4" rx="2.2" ry="1.9" stroke="#3030ee"/>
<ellipse cx="95.8" cy="303.3" rx="2.2" ry="1.9" stroke="#3030ee"/>
<ellipse cx="115.2" cy="276.9" rx="2.2" ry="1.9" stroke="#3030ee"/>
<ellipse cx="118.3" cy="278.2" rx="2.2" ry="1.9" stroke="#3030ee"/>
<ellipse cx="117.4" cy="289.4" rx="2.2" ry="1.9" stroke="#3030ee"/>
<ellipse cx="120.4" cy="280.8" rx="2.2" ry="1.9" stroke="#3030ee"/>
<ellipse cx="112.2" cy="290.6" rx="2.2" ry="1.9" stroke="#3030ee"/>
</g>
<line x1="70.23" y1="337.11" x2="228.87" y2="195.29" stroke="#f04050" stroke-width="1.05" stroke-dasharray="2.6 0.9"/>
<rect x="62.30" y="188.20" width="174.50" height="156.00" fill="none" stroke="#686868" stroke-width="1.4"/>
<g stroke="#686868" stroke-width="1.0">
<line x1="70.23" y1="344.20" x2="70.23" y2="341.60"/>
<line x1="96.67" y1="344.20" x2="96.67" y2="341.60"/>
<line x1="123.11" y1="344.20" x2="123.11" y2="341.60"/>
<line x1="149.55" y1="344.20" x2="149.55" y2="341.60"/>
<line x1="175.99" y1="344.20" x2="175.99" y2="341.60"/>
<line x1="202.43" y1="344.20" x2="202.43" y2="341.60"/>
<line x1="228.87" y1="344.20" x2="228.87" y2="341.60"/>
<line x1="62.30" y1="337.11" x2="64.90" y2="337.11"/>
<line x1="62.30" y1="313.47" x2="64.90" y2="313.47"/>
<line x1="62.30" y1="289.84" x2="64.90" y2="289.84"/>
<line x1="62.30" y1="266.20" x2="64.90" y2="266.20"/>
<line x1="62.30" y1="242.56" x2="64.90" y2="242.56"/>
<line x1="62.30" y1="218.93" x2="64.90" y2="218.93"/>
<line x1="62.30" y1="195.29" x2="64.90" y2="195.29"/>
</g>
<g font-size="5.9" text-anchor="middle" class="tk">
<text transform="translate(70.53,350.70) scale(1.03,1)">0</text>
<text transform="translate(96.97,350.70) scale(1.03,1)">5</text>
<text transform="translate(123.41,350.70) scale(1.03,1)">10</text>
<text transform="translate(149.85,350.70) scale(1.03,1)">15</text>
<text transform="translate(176.29,350.70) scale(1.03,1)">20</text>
<text transform="translate(202.73,350.70) scale(1.03,1)">25</text>
<text transform="translate(229.17,350.70) scale(1.03,1)">30</text>
</g><g font-size="5.9" text-anchor="end" class="tk">
<text transform="translate(59.70,338.91) scale(1.03,1)">0</text>
<text transform="translate(59.70,315.27) scale(1.03,1)">5</text>
<text transform="translate(59.70,291.64) scale(1.03,1)">10</text>
<text transform="translate(59.70,268.00) scale(1.03,1)">15</text>
<text transform="translate(59.70,244.36) scale(1.03,1)">20</text>
<text transform="translate(59.70,220.73) scale(1.03,1)">25</text>
<text transform="translate(59.70,197.09) scale(1.03,1)">30</text>
</g>
<text transform="translate(149.45,360.90) scale(1.104,1)" font-size="9.5" text-anchor="middle">Measured OM (g/kg)</text>
<text transform="translate(48.60,266.30) rotate(-90) scale(1,1.0)" font-size="9.46" text-anchor="middle">Predicted OM (g/kg)</text>
<line x1="172.20" y1="284.10" x2="188.40" y2="284.10" stroke="#f04050" stroke-width="1.05" stroke-dasharray="2.6 0.9"/>
<g font-size="6.7"><text transform="translate(194.80,286.00) scale(1.17,1)">y = x</text>
<text transform="translate(194.80,296.00) scale(1.17,1)">0–10 cm</text>
<text transform="translate(194.80,306.00) scale(1.17,1)">10–20 cm</text>
<text transform="translate(194.80,316.00) scale(1.17,1)">20–40 cm</text>
<text transform="translate(194.80,326.00) scale(1.17,1)">40–70 cm</text>
<text transform="translate(194.80,336.00) scale(1.17,1)">70–100 cm</text>
</g><g fill="none" stroke-width="1.1">
<ellipse cx="180.4" cy="294.1" rx="2.2" ry="1.9" stroke="#e8303c"/>
<ellipse cx="180.4" cy="304.1" rx="2.2" ry="1.9" stroke="#9050b0"/>
<ellipse cx="180.4" cy="314.1" rx="2.2" ry="1.9" stroke="#48e0d0"/>
<ellipse cx="180.4" cy="324.1" rx="2.2" ry="1.9" stroke="#38983a"/>
<ellipse cx="180.4" cy="334.1" rx="2.2" ry="1.9" stroke="#3030ee"/>
</g>
<g fill="none" stroke-width="1.1">
<ellipse cx="384.2" cy="234.0" rx="2.2" ry="1.9" stroke="#e8303c"/>
<ellipse cx="390.1" cy="237.3" rx="2.2" ry="1.9" stroke="#e8303c"/>
<ellipse cx="394.4" cy="237.3" rx="2.2" ry="1.9" stroke="#e8303c"/>
<ellipse cx="401.4" cy="233.5" rx="2.2" ry="1.9" stroke="#e8303c"/>
<ellipse cx="385.2" cy="241.1" rx="2.2" ry="1.9" stroke="#e8303c"/>
<ellipse cx="385.8" cy="246.5" rx="2.2" ry="1.9" stroke="#e8303c"/>
<ellipse cx="382.5" cy="248.6" rx="2.2" ry="1.9" stroke="#e8303c"/>
<ellipse cx="377.7" cy="251.9" rx="2.2" ry="1.9" stroke="#e8303c"/>
<ellipse cx="397.7" cy="245.9" rx="2.2" ry="1.9" stroke="#e8303c"/>
<ellipse cx="399.8" cy="252.4" rx="2.2" ry="1.9" stroke="#e8303c"/>
<ellipse cx="402.5" cy="255.1" rx="2.2" ry="1.9" stroke="#e8303c"/>
<ellipse cx="393.9" cy="258.3" rx="2.2" ry="1.9" stroke="#e8303c"/>
<ellipse cx="421.2" cy="232.3" rx="2.2" ry="1.9" stroke="#e8303c"/>
<ellipse cx="405.0" cy="237.7" rx="2.2" ry="1.9" stroke="#e8303c"/>
<ellipse cx="400.7" cy="240.4" rx="2.2" ry="1.9" stroke="#e8303c"/>
<ellipse cx="409.3" cy="242.0" rx="2.2" ry="1.9" stroke="#e8303c"/>
<ellipse cx="410.4" cy="244.7" rx="2.2" ry="1.9" stroke="#e8303c"/>
<ellipse cx="398.0" cy="247.4" rx="2.2" ry="1.9" stroke="#e8303c"/>
<ellipse cx="386.1" cy="233.9" rx="2.2" ry="1.9" stroke="#e8303c"/>
<ellipse cx="400.1" cy="252.8" rx="2.2" ry="1.9" stroke="#e8303c"/>
<ellipse cx="384.2" cy="250.6" rx="2.2" ry="1.9" stroke="#e8303c"/>
<ellipse cx="382.0" cy="247.6" rx="2.2" ry="1.9" stroke="#e8303c"/>
<ellipse cx="357.3" cy="274.3" rx="2.2" ry="1.9" stroke="#9050b0"/>
<ellipse cx="369.8" cy="274.8" rx="2.2" ry="1.9" stroke="#9050b0"/>
<ellipse cx="379.3" cy="275.2" rx="2.2" ry="1.9" stroke="#9050b0"/>
<ellipse cx="366.0" cy="255.8" rx="2.2" ry="1.9" stroke="#9050b0"/>
<ellipse cx="371.7" cy="256.7" rx="2.2" ry="1.9" stroke="#9050b0"/>
<ellipse cx="373.8" cy="254.1" rx="2.2" ry="1.9" stroke="#9050b0"/>
<ellipse cx="373.8" cy="260.1" rx="2.2" ry="1.9" stroke="#9050b0"/>
<ellipse cx="369.9" cy="259.7" rx="2.2" ry="1.9" stroke="#9050b0"/>
<ellipse cx="376.8" cy="264.4" rx="2.2" ry="1.9" stroke="#9050b0"/>
<ellipse cx="376.0" cy="270.1" rx="2.2" ry="1.9" stroke="#9050b0"/>
<ellipse cx="379.9" cy="252.3" rx="2.2" ry="1.9" stroke="#9050b0"/>
<ellipse cx="386.3" cy="257.5" rx="2.2" ry="1.9" stroke="#9050b0"/>
<ellipse cx="363.9" cy="269.6" rx="2.2" ry="1.9" stroke="#9050b0"/>
<ellipse cx="362.2" cy="261.0" rx="2.2" ry="1.9" stroke="#9050b0"/>
<ellipse cx="390.7" cy="245.9" rx="2.2" ry="1.9" stroke="#9050b0"/>
<ellipse cx="362.6" cy="261.2" rx="2.2" ry="1.9" stroke="#9050b0"/>
<ellipse cx="357.0" cy="268.1" rx="2.2" ry="1.9" stroke="#9050b0"/>
<ellipse cx="363.5" cy="268.6" rx="2.2" ry="1.9" stroke="#9050b0"/>
<ellipse cx="357.0" cy="273.8" rx="2.2" ry="1.9" stroke="#9050b0"/>
<ellipse cx="392.3" cy="242.7" rx="2.2" ry="1.9" stroke="#9050b0"/>
<ellipse cx="391.2" cy="245.4" rx="2.2" ry="1.9" stroke="#9050b0"/>
<ellipse cx="380.4" cy="251.9" rx="2.2" ry="1.9" stroke="#9050b0"/>
<ellipse cx="394.2" cy="240.9" rx="2.2" ry="1.9" stroke="#9050b0"/>
<ellipse cx="406.6" cy="248.5" rx="2.2" ry="1.9" stroke="#9050b0"/>
<ellipse cx="373.4" cy="253.9" rx="2.2" ry="1.9" stroke="#9050b0"/>
<ellipse cx="334.2" cy="288.2" rx="2.2" ry="1.9" stroke="#48e0d0"/>
<ellipse cx="331.6" cy="292.5" rx="2.2" ry="1.9" stroke="#48e0d0"/>
<ellipse cx="345.4" cy="280.9" rx="2.2" ry="1.9" stroke="#48e0d0"/>
<ellipse cx="358.1" cy="295.9" rx="2.2" ry="1.9" stroke="#48e0d0"/>
<ellipse cx="359.9" cy="280.8" rx="2.2" ry="1.9" stroke="#48e0d0"/>
<ellipse cx="363.3" cy="280.8" rx="2.2" ry="1.9" stroke="#48e0d0"/>
<ellipse cx="355.6" cy="283.8" rx="2.2" ry="1.9" stroke="#48e0d0"/>
<ellipse cx="352.1" cy="281.2" rx="2.2" ry="1.9" stroke="#48e0d0"/>
<ellipse cx="353.8" cy="271.7" rx="2.2" ry="1.9" stroke="#48e0d0"/>
<ellipse cx="365.5" cy="274.3" rx="2.2" ry="1.9" stroke="#48e0d0"/>
<ellipse cx="341.3" cy="278.6" rx="2.2" ry="1.9" stroke="#48e0d0"/>
<ellipse cx="367.0" cy="261.7" rx="2.2" ry="1.9" stroke="#48e0d0"/>
<ellipse cx="365.7" cy="264.3" rx="2.2" ry="1.9" stroke="#48e0d0"/>
<ellipse cx="357.9" cy="265.1" rx="2.2" ry="1.9" stroke="#48e0d0"/>
<ellipse cx="361.4" cy="266.4" rx="2.2" ry="1.9" stroke="#48e0d0"/>
<ellipse cx="353.6" cy="272.0" rx="2.2" ry="1.9" stroke="#48e0d0"/>
<ellipse cx="354.4" cy="278.9" rx="2.2" ry="1.9" stroke="#48e0d0"/>
<ellipse cx="370.4" cy="268.3" rx="2.2" ry="1.9" stroke="#48e0d0"/>
<ellipse cx="322.5" cy="288.6" rx="2.2" ry="1.9" stroke="#38983a"/>
<ellipse cx="319.9" cy="292.5" rx="2.2" ry="1.9" stroke="#38983a"/>
<ellipse cx="333.3" cy="293.0" rx="2.2" ry="1.9" stroke="#38983a"/>
<ellipse cx="337.6" cy="288.2" rx="2.2" ry="1.9" stroke="#38983a"/>
<ellipse cx="340.7" cy="285.2" rx="2.2" ry="1.9" stroke="#38983a"/>
<ellipse cx="342.4" cy="286.0" rx="2.2" ry="1.9" stroke="#38983a"/>
<ellipse cx="342.8" cy="290.4" rx="2.2" ry="1.9" stroke="#38983a"/>
<ellipse cx="337.6" cy="302.0" rx="2.2" ry="1.9" stroke="#38983a"/>
<ellipse cx="345.2" cy="279.9" rx="2.2" ry="1.9" stroke="#38983a"/>
<ellipse cx="342.2" cy="286.0" rx="2.2" ry="1.9" stroke="#38983a"/>
<ellipse cx="370.4" cy="271.0" rx="2.2" ry="1.9" stroke="#38983a"/>
<ellipse cx="315.6" cy="297.3" rx="2.2" ry="1.9" stroke="#3030ee"/>
<ellipse cx="335.1" cy="283.5" rx="2.2" ry="1.9" stroke="#3030ee"/>
<ellipse cx="328.6" cy="288.6" rx="2.2" ry="1.9" stroke="#3030ee"/>
<ellipse cx="325.1" cy="291.2" rx="2.2" ry="1.9" stroke="#3030ee"/>
<ellipse cx="322.5" cy="295.1" rx="2.2" ry="1.9" stroke="#3030ee"/>
<ellipse cx="327.7" cy="296.0" rx="2.2" ry="1.9" stroke="#3030ee"/>
<ellipse cx="330.7" cy="297.7" rx="2.2" ry="1.9" stroke="#3030ee"/>
<ellipse cx="325.1" cy="298.6" rx="2.2" ry="1.9" stroke="#3030ee"/>
<ellipse cx="328.6" cy="299.4" rx="2.2" ry="1.9" stroke="#3030ee"/>
<ellipse cx="323.0" cy="300.7" rx="2.2" ry="1.9" stroke="#3030ee"/>
<ellipse cx="318.2" cy="302.5" rx="2.2" ry="1.9" stroke="#3030ee"/>
<ellipse cx="320.4" cy="302.9" rx="2.2" ry="1.9" stroke="#3030ee"/>
<ellipse cx="326.0" cy="301.6" rx="2.2" ry="1.9" stroke="#3030ee"/>
<ellipse cx="323.8" cy="304.2" rx="2.2" ry="1.9" stroke="#3030ee"/>
<ellipse cx="333.8" cy="300.3" rx="2.2" ry="1.9" stroke="#3030ee"/>
<ellipse cx="332.9" cy="304.2" rx="2.2" ry="1.9" stroke="#3030ee"/>
<ellipse cx="328.1" cy="306.8" rx="2.2" ry="1.9" stroke="#3030ee"/>
<ellipse cx="339.4" cy="296.8" rx="2.2" ry="1.9" stroke="#3030ee"/>
<ellipse cx="338.5" cy="291.7" rx="2.2" ry="1.9" stroke="#3030ee"/>
</g>
<line x1="293.34" y1="337.11" x2="448.06" y2="195.29" stroke="#f04050" stroke-width="1.05" stroke-dasharray="2.6 0.9"/>
<rect x="285.60" y="188.20" width="170.20" height="156.00" fill="none" stroke="#686868" stroke-width="1.4"/>
<g stroke="#686868" stroke-width="1.0">
<line x1="293.34" y1="344.20" x2="293.34" y2="341.60"/>
<line x1="332.02" y1="344.20" x2="332.02" y2="341.60"/>
<line x1="370.70" y1="344.20" x2="370.70" y2="341.60"/>
<line x1="409.38" y1="344.20" x2="409.38" y2="341.60"/>
<line x1="448.06" y1="344.20" x2="448.06" y2="341.60"/>
<line x1="285.60" y1="337.11" x2="288.20" y2="337.11"/>
<line x1="285.60" y1="319.38" x2="288.20" y2="319.38"/>
<line x1="285.60" y1="301.65" x2="288.20" y2="301.65"/>
<line x1="285.60" y1="283.93" x2="288.20" y2="283.93"/>
<line x1="285.60" y1="266.20" x2="288.20" y2="266.20"/>
<line x1="285.60" y1="248.47" x2="288.20" y2="248.47"/>
<line x1="285.60" y1="230.75" x2="288.20" y2="230.75"/>
<line x1="285.60" y1="213.02" x2="288.20" y2="213.02"/>
<line x1="285.60" y1="195.29" x2="288.20" y2="195.29"/>
</g>
<g font-size="5.9" text-anchor="middle" class="tk">
<text transform="translate(293.64,350.70) scale(1.03,1)">0.0</text>
<text transform="translate(332.32,350.70) scale(1.03,1)">0.5</text>
<text transform="translate(371.00,350.70) scale(1.03,1)">1.0</text>
<text transform="translate(409.68,350.70) scale(1.03,1)">1.5</text>
<text transform="translate(448.36,350.70) scale(1.03,1)">2.0</text>
</g><g font-size="5.9" text-anchor="end" class="tk">
<text transform="translate(283.00,338.91) scale(1.03,1)">0.00</text>
<text transform="translate(283.00,321.18) scale(1.03,1)">0.25</text>
<text transform="translate(283.00,303.45) scale(1.03,1)">0.50</text>
<text transform="translate(283.00,285.73) scale(1.03,1)">0.75</text>
<text transform="translate(283.00,268.00) scale(1.03,1)">1.00</text>
<text transform="translate(283.00,250.27) scale(1.03,1)">1.25</text>
<text transform="translate(283.00,232.55) scale(1.03,1)">1.50</text>
<text transform="translate(283.00,214.82) scale(1.03,1)">1.75</text>
<text transform="translate(283.00,197.09) scale(1.03,1)">2.00</text>
</g>
<text transform="translate(370.80,360.90) scale(1.078,1)" font-size="9.5" text-anchor="middle">Measured TN (g/kg)</text>
<text transform="translate(268.20,266.50) rotate(-90) scale(1,1.0)" font-size="9.73" text-anchor="middle">Predicted TN (g/kg)</text>
<line x1="393.00" y1="284.10" x2="408.90" y2="284.10" stroke="#f04050" stroke-width="1.05" stroke-dasharray="2.6 0.9"/>
<g font-size="6.7"><text transform="translate(414.50,286.00) scale(1.17,1)">y = x</text>
<text transform="translate(414.50,296.00) scale(1.17,1)">0–10 cm</text>
<text transform="translate(414.50,306.00) scale(1.17,1)">10–20 cm</text>
<text transform="translate(414.50,316.00) scale(1.17,1)">20–40 cm</text>
<text transform="translate(414.50,326.00) scale(1.17,1)">40–70 cm</text>
<text transform="translate(414.50,336.00) scale(1.17,1)">70–100 cm</text>
</g><g fill="none" stroke-width="1.1">
<ellipse cx="400.9" cy="294.1" rx="2.2" ry="1.9" stroke="#e8303c"/>
<ellipse cx="400.9" cy="304.1" rx="2.2" ry="1.9" stroke="#9050b0"/>
<ellipse cx="400.9" cy="314.1" rx="2.2" ry="1.9" stroke="#48e0d0"/>
<ellipse cx="400.9" cy="324.1" rx="2.2" ry="1.9" stroke="#38983a"/>
<ellipse cx="400.9" cy="334.1" rx="2.2" ry="1.9" stroke="#3030ee"/>
</g>
<text transform="translate(16.4,275.90) rotate(-90)" font-size="13.85" text-anchor="middle">0–40 cm MIR</text>
<g fill="none" stroke-width="1.1">
<ellipse cx="185.4" cy="410.9" rx="2.2" ry="1.9" stroke="#e8303c"/>
<ellipse cx="179.8" cy="418.2" rx="2.2" ry="1.9" stroke="#e8303c"/>
<ellipse cx="182.8" cy="417.8" rx="2.2" ry="1.9" stroke="#e8303c"/>
<ellipse cx="171.2" cy="424.3" rx="2.2" ry="1.9" stroke="#e8303c"/>
<ellipse cx="175.1" cy="425.1" rx="2.2" ry="1.9" stroke="#e8303c"/>
<ellipse cx="183.7" cy="422.1" rx="2.2" ry="1.9" stroke="#e8303c"/>
<ellipse cx="183.7" cy="428.1" rx="2.2" ry="1.9" stroke="#e8303c"/>
<ellipse cx="188.0" cy="432.0" rx="2.2" ry="1.9" stroke="#e8303c"/>
<ellipse cx="181.1" cy="438.5" rx="2.2" ry="1.9" stroke="#e8303c"/>
<ellipse cx="187.5" cy="404.5" rx="2.2" ry="1.9" stroke="#e8303c"/>
<ellipse cx="185.4" cy="410.6" rx="2.2" ry="1.9" stroke="#e8303c"/>
<ellipse cx="198.3" cy="412.3" rx="2.2" ry="1.9" stroke="#e8303c"/>
<ellipse cx="204.8" cy="419.2" rx="2.2" ry="1.9" stroke="#e8303c"/>
<ellipse cx="180.2" cy="417.9" rx="2.2" ry="1.9" stroke="#e8303c"/>
<ellipse cx="185.8" cy="420.1" rx="2.2" ry="1.9" stroke="#e8303c"/>
<ellipse cx="188.4" cy="420.5" rx="2.2" ry="1.9" stroke="#e8303c"/>
<ellipse cx="183.2" cy="422.6" rx="2.2" ry="1.9" stroke="#e8303c"/>
<ellipse cx="189.7" cy="425.7" rx="2.2" ry="1.9" stroke="#e8303c"/>
<ellipse cx="202.4" cy="430.8" rx="2.2" ry="1.9" stroke="#e8303c"/>
<ellipse cx="189.9" cy="426.0" rx="2.2" ry="1.9" stroke="#e8303c"/>
<ellipse cx="180.4" cy="438.6" rx="2.2" ry="1.9" stroke="#e8303c"/>
<ellipse cx="178.2" cy="432.1" rx="2.2" ry="1.9" stroke="#e8303c"/>
<ellipse cx="121.7" cy="421.7" rx="2.2" ry="1.9" stroke="#9050b0"/>
<ellipse cx="113.8" cy="490.3" rx="2.2" ry="1.9" stroke="#9050b0"/>
<ellipse cx="124.6" cy="494.6" rx="2.2" ry="1.9" stroke="#9050b0"/>
<ellipse cx="150.6" cy="451.4" rx="2.2" ry="1.9" stroke="#9050b0"/>
<ellipse cx="160.5" cy="454.4" rx="2.2" ry="1.9" stroke="#9050b0"/>
<ellipse cx="168.7" cy="449.3" rx="2.2" ry="1.9" stroke="#9050b0"/>
<ellipse cx="157.9" cy="445.4" rx="2.2" ry="1.9" stroke="#9050b0"/>
<ellipse cx="154.4" cy="439.3" rx="2.2" ry="1.9" stroke="#9050b0"/>
<ellipse cx="166.5" cy="439.8" rx="2.2" ry="1.9" stroke="#9050b0"/>
<ellipse cx="170.4" cy="437.6" rx="2.2" ry="1.9" stroke="#9050b0"/>
<ellipse cx="160.8" cy="427.3" rx="2.2" ry="1.9" stroke="#9050b0"/>
<ellipse cx="166.8" cy="429.4" rx="2.2" ry="1.9" stroke="#9050b0"/>
<ellipse cx="165.1" cy="432.5" rx="2.2" ry="1.9" stroke="#9050b0"/>
<ellipse cx="153.9" cy="435.9" rx="2.2" ry="1.9" stroke="#9050b0"/>
<ellipse cx="154.3" cy="439.8" rx="2.2" ry="1.9" stroke="#9050b0"/>
<ellipse cx="158.2" cy="437.6" rx="2.2" ry="1.9" stroke="#9050b0"/>
<ellipse cx="160.8" cy="442.0" rx="2.2" ry="1.9" stroke="#9050b0"/>
<ellipse cx="166.0" cy="439.8" rx="2.2" ry="1.9" stroke="#9050b0"/>
<ellipse cx="172.0" cy="433.8" rx="2.2" ry="1.9" stroke="#9050b0"/>
<ellipse cx="177.2" cy="423.0" rx="2.2" ry="1.9" stroke="#9050b0"/>
<ellipse cx="177.2" cy="429.4" rx="2.2" ry="1.9" stroke="#9050b0"/>
<ellipse cx="186.7" cy="423.4" rx="2.2" ry="1.9" stroke="#9050b0"/>
<ellipse cx="178.9" cy="439.8" rx="2.2" ry="1.9" stroke="#9050b0"/>
<ellipse cx="177.8" cy="429.1" rx="2.2" ry="1.9" stroke="#9050b0"/>
<ellipse cx="178.6" cy="439.4" rx="2.2" ry="1.9" stroke="#9050b0"/>
<ellipse cx="172.2" cy="433.4" rx="2.2" ry="1.9" stroke="#9050b0"/>
<ellipse cx="170.4" cy="437.3" rx="2.2" ry="1.9" stroke="#9050b0"/>
<ellipse cx="114.4" cy="466.8" rx="2.2" ry="1.9" stroke="#48e0d0"/>
<ellipse cx="121.7" cy="468.1" rx="2.2" ry="1.9" stroke="#48e0d0"/>
<ellipse cx="130.1" cy="456.0" rx="2.2" ry="1.9" stroke="#48e0d0"/>
<ellipse cx="130.1" cy="461.2" rx="2.2" ry="1.9" stroke="#48e0d0"/>
<ellipse cx="142.2" cy="450.8" rx="2.2" ry="1.9" stroke="#48e0d0"/>
<ellipse cx="138.3" cy="460.7" rx="2.2" ry="1.9" stroke="#48e0d0"/>
<ellipse cx="140.9" cy="461.6" rx="2.2" ry="1.9" stroke="#48e0d0"/>
<ellipse cx="143.5" cy="461.6" rx="2.2" ry="1.9" stroke="#48e0d0"/>
<ellipse cx="137.5" cy="465.5" rx="2.2" ry="1.9" stroke="#48e0d0"/>
<ellipse cx="139.6" cy="464.2" rx="2.2" ry="1.9" stroke="#48e0d0"/>
<ellipse cx="121.5" cy="467.6" rx="2.2" ry="1.9" stroke="#48e0d0"/>
<ellipse cx="135.7" cy="471.5" rx="2.2" ry="1.9" stroke="#48e0d0"/>
<ellipse cx="139.2" cy="470.7" rx="2.2" ry="1.9" stroke="#48e0d0"/>
<ellipse cx="152.3" cy="453.1" rx="2.2" ry="1.9" stroke="#48e0d0"/>
<ellipse cx="154.4" cy="455.7" rx="2.2" ry="1.9" stroke="#48e0d0"/>
<ellipse cx="152.3" cy="457.5" rx="2.2" ry="1.9" stroke="#48e0d0"/>
<ellipse cx="135.0" cy="481.7" rx="2.2" ry="1.9" stroke="#48e0d0"/>
<ellipse cx="134.6" cy="478.6" rx="2.2" ry="1.9" stroke="#48e0d0"/>
<ellipse cx="161.8" cy="446.2" rx="2.2" ry="1.9" stroke="#48e0d0"/>
<ellipse cx="138.5" cy="463.1" rx="2.2" ry="1.9" stroke="#48e0d0"/>
<ellipse cx="141.9" cy="461.8" rx="2.2" ry="1.9" stroke="#48e0d0"/>
<ellipse cx="155.7" cy="468.3" rx="2.2" ry="1.9" stroke="#48e0d0"/>
<ellipse cx="158.6" cy="433.3" rx="2.2" ry="1.9" stroke="#48e0d0"/>
<ellipse cx="163.0" cy="435.9" rx="2.2" ry="1.9" stroke="#48e0d0"/>
<ellipse cx="164.3" cy="438.1" rx="2.2" ry="1.9" stroke="#48e0d0"/>
<ellipse cx="183.8" cy="446.8" rx="2.2" ry="1.9" stroke="#48e0d0"/>
<ellipse cx="107.0" cy="442.9" rx="2.2" ry="1.9" stroke="#38983a"/>
<ellipse cx="116.1" cy="440.3" rx="2.2" ry="1.9" stroke="#38983a"/>
<ellipse cx="119.1" cy="444.6" rx="2.2" ry="1.9" stroke="#38983a"/>
<ellipse cx="122.6" cy="452.4" rx="2.2" ry="1.9" stroke="#38983a"/>
<ellipse cx="108.8" cy="453.3" rx="2.2" ry="1.9" stroke="#38983a"/>
<ellipse cx="103.1" cy="458.6" rx="2.2" ry="1.9" stroke="#38983a"/>
<ellipse cx="109.2" cy="453.9" rx="2.2" ry="1.9" stroke="#38983a"/>
<ellipse cx="119.6" cy="458.6" rx="2.2" ry="1.9" stroke="#38983a"/>
<ellipse cx="120.9" cy="463.4" rx="2.2" ry="1.9" stroke="#38983a"/>
<ellipse cx="107.9" cy="468.6" rx="2.2" ry="1.9" stroke="#38983a"/>
<ellipse cx="106.2" cy="471.6" rx="2.2" ry="1.9" stroke="#38983a"/>
<ellipse cx="111.8" cy="469.0" rx="2.2" ry="1.9" stroke="#38983a"/>
<ellipse cx="113.1" cy="477.2" rx="2.2" ry="1.9" stroke="#38983a"/>
<ellipse cx="118.5" cy="444.8" rx="2.2" ry="1.9" stroke="#38983a"/>
<ellipse cx="121.0" cy="463.3" rx="2.2" ry="1.9" stroke="#38983a"/>
<ellipse cx="131.8" cy="468.9" rx="2.2" ry="1.9" stroke="#38983a"/>
<ellipse cx="148.3" cy="465.5" rx="2.2" ry="1.9" stroke="#38983a"/>
<ellipse cx="125.8" cy="473.3" rx="2.2" ry="1.9" stroke="#38983a"/>
<ellipse cx="113.8" cy="480.8" rx="2.2" ry="1.9" stroke="#38983a"/>
<ellipse cx="109.5" cy="485.6" rx="2.2" ry="1.9" stroke="#38983a"/>
<ellipse cx="124.6" cy="483.4" rx="2.2" ry="1.9" stroke="#38983a"/>
<ellipse cx="130.2" cy="475.6" rx="2.2" ry="1.9" stroke="#38983a"/>
<ellipse cx="137.1" cy="475.6" rx="2.2" ry="1.9" stroke="#38983a"/>
<ellipse cx="106.5" cy="471.7" rx="2.2" ry="1.9" stroke="#38983a"/>
<ellipse cx="148.4" cy="465.7" rx="2.2" ry="1.9" stroke="#38983a"/>
<ellipse cx="94.1" cy="423.9" rx="2.2" ry="1.9" stroke="#3030ee"/>
<ellipse cx="97.8" cy="424.1" rx="2.2" ry="1.9" stroke="#3030ee"/>
<ellipse cx="98.4" cy="429.9" rx="2.2" ry="1.9" stroke="#3030ee"/>
<ellipse cx="93.4" cy="433.8" rx="2.2" ry="1.9" stroke="#3030ee"/>
<ellipse cx="94.9" cy="442.9" rx="2.2" ry="1.9" stroke="#3030ee"/>
<ellipse cx="109.2" cy="439.2" rx="2.2" ry="1.9" stroke="#3030ee"/>
<ellipse cx="108.3" cy="442.3" rx="2.2" ry="1.9" stroke="#3030ee"/>
<ellipse cx="101.4" cy="445.1" rx="2.2" ry="1.9" stroke="#3030ee"/>
<ellipse cx="95.4" cy="449.4" rx="2.2" ry="1.9" stroke="#3030ee"/>
<ellipse cx="99.3" cy="448.5" rx="2.2" ry="1.9" stroke="#3030ee"/>
<ellipse cx="103.1" cy="448.1" rx="2.2" ry="1.9" stroke="#3030ee"/>
<ellipse cx="100.6" cy="452.0" rx="2.2" ry="1.9" stroke="#3030ee"/>
<ellipse cx="104.4" cy="451.5" rx="2.2" ry="1.9" stroke="#3030ee"/>
<ellipse cx="107.0" cy="451.1" rx="2.2" ry="1.9" stroke="#3030ee"/>
<ellipse cx="100.1" cy="454.3" rx="2.2" ry="1.9" stroke="#3030ee"/>
<ellipse cx="106.2" cy="457.8" rx="2.2" ry="1.9" stroke="#3030ee"/>
<ellipse cx="115.7" cy="457.8" rx="2.2" ry="1.9" stroke="#3030ee"/>
<ellipse cx="117.4" cy="456.0" rx="2.2" ry="1.9" stroke="#3030ee"/>
<ellipse cx="118.7" cy="462.5" rx="2.2" ry="1.9" stroke="#3030ee"/>
<ellipse cx="105.3" cy="463.8" rx="2.2" ry="1.9" stroke="#3030ee"/>
<ellipse cx="98.0" cy="467.7" rx="2.2" ry="1.9" stroke="#3030ee"/>
<ellipse cx="101.4" cy="467.3" rx="2.2" ry="1.9" stroke="#3030ee"/>
<ellipse cx="103.6" cy="469.9" rx="2.2" ry="1.9" stroke="#3030ee"/>
<ellipse cx="111.8" cy="466.0" rx="2.2" ry="1.9" stroke="#3030ee"/>
<ellipse cx="110.1" cy="482.0" rx="2.2" ry="1.9" stroke="#3030ee"/>
<ellipse cx="117.6" cy="456.0" rx="2.2" ry="1.9" stroke="#3030ee"/>
<ellipse cx="118.9" cy="462.9" rx="2.2" ry="1.9" stroke="#3030ee"/>
<ellipse cx="110.4" cy="481.7" rx="2.2" ry="1.9" stroke="#3030ee"/>
<ellipse cx="103.5" cy="470.4" rx="2.2" ry="1.9" stroke="#3030ee"/>
</g>
<line x1="70.23" y1="521.11" x2="228.87" y2="379.29" stroke="#f04050" stroke-width="1.05" stroke-dasharray="2.6 0.9"/>
<rect x="62.30" y="372.20" width="174.50" height="156.00" fill="none" stroke="#686868" stroke-width="1.4"/>
<g stroke="#686868" stroke-width="1.0">
<line x1="70.23" y1="528.20" x2="70.23" y2="525.60"/>
<line x1="96.67" y1="528.20" x2="96.67" y2="525.60"/>
<line x1="123.11" y1="528.20" x2="123.11" y2="525.60"/>
<line x1="149.55" y1="528.20" x2="149.55" y2="525.60"/>
<line x1="175.99" y1="528.20" x2="175.99" y2="525.60"/>
<line x1="202.43" y1="528.20" x2="202.43" y2="525.60"/>
<line x1="228.87" y1="528.20" x2="228.87" y2="525.60"/>
<line x1="62.30" y1="521.11" x2="64.90" y2="521.11"/>
<line x1="62.30" y1="497.47" x2="64.90" y2="497.47"/>
<line x1="62.30" y1="473.84" x2="64.90" y2="473.84"/>
<line x1="62.30" y1="450.20" x2="64.90" y2="450.20"/>
<line x1="62.30" y1="426.56" x2="64.90" y2="426.56"/>
<line x1="62.30" y1="402.93" x2="64.90" y2="402.93"/>
<line x1="62.30" y1="379.29" x2="64.90" y2="379.29"/>
</g>
<g font-size="5.9" text-anchor="middle" class="tk">
<text transform="translate(70.53,534.70) scale(1.03,1)">0</text>
<text transform="translate(96.97,534.70) scale(1.03,1)">5</text>
<text transform="translate(123.41,534.70) scale(1.03,1)">10</text>
<text transform="translate(149.85,534.70) scale(1.03,1)">15</text>
<text transform="translate(176.29,534.70) scale(1.03,1)">20</text>
<text transform="translate(202.73,534.70) scale(1.03,1)">25</text>
<text transform="translate(229.17,534.70) scale(1.03,1)">30</text>
</g><g font-size="5.9" text-anchor="end" class="tk">
<text transform="translate(59.70,522.91) scale(1.03,1)">0</text>
<text transform="translate(59.70,499.27) scale(1.03,1)">5</text>
<text transform="translate(59.70,475.64) scale(1.03,1)">10</text>
<text transform="translate(59.70,452.00) scale(1.03,1)">15</text>
<text transform="translate(59.70,428.36) scale(1.03,1)">20</text>
<text transform="translate(59.70,404.73) scale(1.03,1)">25</text>
<text transform="translate(59.70,381.09) scale(1.03,1)">30</text>
</g>
<text transform="translate(149.45,544.90) scale(1.104,1)" font-size="9.5" text-anchor="middle">Measured OM (g/kg)</text>
<text transform="translate(48.60,450.30) rotate(-90) scale(1,1.0)" font-size="9.46" text-anchor="middle">Predicted OM (g/kg)</text>
<line x1="172.20" y1="467.60" x2="188.40" y2="467.60" stroke="#f04050" stroke-width="1.05" stroke-dasharray="2.6 0.9"/>
<g font-size="6.7"><text transform="translate(194.80,469.50) scale(1.17,1)">y = x</text>
<text transform="translate(194.80,479.50) scale(1.17,1)">0–10 cm</text>
<text transform="translate(194.80,489.50) scale(1.17,1)">10–20 cm</text>
<text transform="translate(194.80,499.50) scale(1.17,1)">20–40 cm</text>
<text transform="translate(194.80,509.50) scale(1.17,1)">40–70 cm</text>
<text transform="translate(194.80,519.50) scale(1.17,1)">70–100 cm</text>
</g><g fill="none" stroke-width="1.1">
<ellipse cx="180.4" cy="477.6" rx="2.2" ry="1.9" stroke="#e8303c"/>
<ellipse cx="180.4" cy="487.6" rx="2.2" ry="1.9" stroke="#9050b0"/>
<ellipse cx="180.4" cy="497.6" rx="2.2" ry="1.9" stroke="#48e0d0"/>
<ellipse cx="180.4" cy="507.6" rx="2.2" ry="1.9" stroke="#38983a"/>
<ellipse cx="180.4" cy="517.6" rx="2.2" ry="1.9" stroke="#3030ee"/>
</g>
<g fill="none" stroke-width="1.1">
<ellipse cx="377.1" cy="441.2" rx="2.2" ry="1.9" stroke="#e8303c"/>
<ellipse cx="378.9" cy="437.8" rx="2.2" ry="1.9" stroke="#e8303c"/>
<ellipse cx="401.9" cy="415.9" rx="2.2" ry="1.9" stroke="#e8303c"/>
<ellipse cx="385.7" cy="428.9" rx="2.2" ry="1.9" stroke="#e8303c"/>
<ellipse cx="381.3" cy="431.1" rx="2.2" ry="1.9" stroke="#e8303c"/>
<ellipse cx="391.6" cy="428.9" rx="2.2" ry="1.9" stroke="#e8303c"/>
<ellipse cx="385.7" cy="433.2" rx="2.2" ry="1.9" stroke="#e8303c"/>
<ellipse cx="401.3" cy="428.9" rx="2.2" ry="1.9" stroke="#e8303c"/>
<ellipse cx="405.1" cy="431.6" rx="2.2" ry="1.9" stroke="#e8303c"/>
<ellipse cx="410.0" cy="432.1" rx="2.2" ry="1.9" stroke="#e8303c"/>
<ellipse cx="410.0" cy="437.5" rx="2.2" ry="1.9" stroke="#e8303c"/>
<ellipse cx="379.7" cy="437.5" rx="2.2" ry="1.9" stroke="#e8303c"/>
<ellipse cx="383.5" cy="437.5" rx="2.2" ry="1.9" stroke="#e8303c"/>
<ellipse cx="387.3" cy="437.5" rx="2.2" ry="1.9" stroke="#e8303c"/>
<ellipse cx="387.3" cy="441.3" rx="2.2" ry="1.9" stroke="#e8303c"/>
<ellipse cx="397.0" cy="438.6" rx="2.2" ry="1.9" stroke="#e8303c"/>
<ellipse cx="394.8" cy="440.8" rx="2.2" ry="1.9" stroke="#e8303c"/>
<ellipse cx="400.2" cy="440.8" rx="2.2" ry="1.9" stroke="#e8303c"/>
<ellipse cx="393.8" cy="445.6" rx="2.2" ry="1.9" stroke="#e8303c"/>
<ellipse cx="390.3" cy="448.5" rx="2.2" ry="1.9" stroke="#e8303c"/>
<ellipse cx="421.0" cy="436.6" rx="2.2" ry="1.9" stroke="#e8303c"/>
<ellipse cx="400.5" cy="453.9" rx="2.2" ry="1.9" stroke="#e8303c"/>
<ellipse cx="387.0" cy="442.0" rx="2.2" ry="1.9" stroke="#e8303c"/>
<ellipse cx="341.7" cy="488.4" rx="2.2" ry="1.9" stroke="#9050b0"/>
<ellipse cx="331.4" cy="440.4" rx="2.2" ry="1.9" stroke="#9050b0"/>
<ellipse cx="369.8" cy="439.9" rx="2.2" ry="1.9" stroke="#9050b0"/>
<ellipse cx="365.9" cy="445.6" rx="2.2" ry="1.9" stroke="#9050b0"/>
<ellipse cx="369.4" cy="445.6" rx="2.2" ry="1.9" stroke="#9050b0"/>
<ellipse cx="374.1" cy="447.3" rx="2.2" ry="1.9" stroke="#9050b0"/>
<ellipse cx="361.2" cy="455.9" rx="2.2" ry="1.9" stroke="#9050b0"/>
<ellipse cx="363.8" cy="453.8" rx="2.2" ry="1.9" stroke="#9050b0"/>
<ellipse cx="367.6" cy="454.2" rx="2.2" ry="1.9" stroke="#9050b0"/>
<ellipse cx="371.5" cy="453.3" rx="2.2" ry="1.9" stroke="#9050b0"/>
<ellipse cx="374.6" cy="452.0" rx="2.2" ry="1.9" stroke="#9050b0"/>
<ellipse cx="376.7" cy="453.3" rx="2.2" ry="1.9" stroke="#9050b0"/>
<ellipse cx="377.1" cy="458.1" rx="2.2" ry="1.9" stroke="#9050b0"/>
<ellipse cx="378.9" cy="444.7" rx="2.2" ry="1.9" stroke="#9050b0"/>
<ellipse cx="363.3" cy="478.8" rx="2.2" ry="1.9" stroke="#9050b0"/>
<ellipse cx="391.6" cy="432.1" rx="2.2" ry="1.9" stroke="#9050b0"/>
<ellipse cx="394.3" cy="434.3" rx="2.2" ry="1.9" stroke="#9050b0"/>
<ellipse cx="392.1" cy="437.5" rx="2.2" ry="1.9" stroke="#9050b0"/>
<ellipse cx="406.0" cy="440.3" rx="2.2" ry="1.9" stroke="#9050b0"/>
<ellipse cx="380.3" cy="444.6" rx="2.2" ry="1.9" stroke="#9050b0"/>
<ellipse cx="373.8" cy="446.7" rx="2.2" ry="1.9" stroke="#9050b0"/>
<ellipse cx="370.5" cy="440.2" rx="2.2" ry="1.9" stroke="#9050b0"/>
<ellipse cx="391.9" cy="438.2" rx="2.2" ry="1.9" stroke="#9050b0"/>
<ellipse cx="381.1" cy="453.4" rx="2.2" ry="1.9" stroke="#9050b0"/>
<ellipse cx="386.5" cy="455.0" rx="2.2" ry="1.9" stroke="#9050b0"/>
<ellipse cx="336.1" cy="461.2" rx="2.2" ry="1.9" stroke="#48e0d0"/>
<ellipse cx="343.0" cy="462.1" rx="2.2" ry="1.9" stroke="#48e0d0"/>
<ellipse cx="338.7" cy="471.6" rx="2.2" ry="1.9" stroke="#48e0d0"/>
<ellipse cx="342.6" cy="483.7" rx="2.2" ry="1.9" stroke="#48e0d0"/>
<ellipse cx="334.8" cy="485.0" rx="2.2" ry="1.9" stroke="#48e0d0"/>
<ellipse cx="358.1" cy="448.1" rx="2.2" ry="1.9" stroke="#48e0d0"/>
<ellipse cx="355.1" cy="456.8" rx="2.2" ry="1.9" stroke="#48e0d0"/>
<ellipse cx="362.9" cy="459.8" rx="2.2" ry="1.9" stroke="#48e0d0"/>
<ellipse cx="366.3" cy="459.8" rx="2.2" ry="1.9" stroke="#48e0d0"/>
<ellipse cx="356.8" cy="459.8" rx="2.2" ry="1.9" stroke="#48e0d0"/>
<ellipse cx="370.7" cy="462.4" rx="2.2" ry="1.9" stroke="#48e0d0"/>
<ellipse cx="343.5" cy="462.3" rx="2.2" ry="1.9" stroke="#48e0d0"/>
<ellipse cx="350.4" cy="464.9" rx="2.2" ry="1.9" stroke="#48e0d0"/>
<ellipse cx="352.5" cy="471.4" rx="2.2" ry="1.9" stroke="#48e0d0"/>
<ellipse cx="353.4" cy="476.2" rx="2.2" ry="1.9" stroke="#48e0d0"/>
<ellipse cx="358.6" cy="485.2" rx="2.2" ry="1.9" stroke="#48e0d0"/>
<ellipse cx="355.1" cy="463.2" rx="2.2" ry="1.9" stroke="#48e0d0"/>
<ellipse cx="359.4" cy="463.6" rx="2.2" ry="1.9" stroke="#48e0d0"/>
<ellipse cx="358.6" cy="467.1" rx="2.2" ry="1.9" stroke="#48e0d0"/>
<ellipse cx="363.3" cy="460.2" rx="2.2" ry="1.9" stroke="#48e0d0"/>
<ellipse cx="365.9" cy="463.6" rx="2.2" ry="1.9" stroke="#48e0d0"/>
<ellipse cx="365.5" cy="467.5" rx="2.2" ry="1.9" stroke="#48e0d0"/>
<ellipse cx="347.3" cy="474.9" rx="2.2" ry="1.9" stroke="#48e0d0"/>
<ellipse cx="343.0" cy="483.5" rx="2.2" ry="1.9" stroke="#48e0d0"/>
<ellipse cx="384.9" cy="451.2" rx="2.2" ry="1.9" stroke="#48e0d0"/>
<ellipse cx="322.5" cy="450.0" rx="2.2" ry="1.9" stroke="#38983a"/>
<ellipse cx="337.5" cy="455.0" rx="2.2" ry="1.9" stroke="#38983a"/>
<ellipse cx="337.4" cy="463.8" rx="2.2" ry="1.9" stroke="#38983a"/>
<ellipse cx="345.1" cy="467.3" rx="2.2" ry="1.9" stroke="#38983a"/>
<ellipse cx="326.1" cy="468.6" rx="2.2" ry="1.9" stroke="#38983a"/>
<ellipse cx="324.8" cy="476.8" rx="2.2" ry="1.9" stroke="#38983a"/>
<ellipse cx="338.2" cy="475.5" rx="2.2" ry="1.9" stroke="#38983a"/>
<ellipse cx="341.3" cy="473.3" rx="2.2" ry="1.9" stroke="#38983a"/>
<ellipse cx="344.7" cy="477.6" rx="2.2" ry="1.9" stroke="#38983a"/>
<ellipse cx="335.6" cy="482.8" rx="2.2" ry="1.9" stroke="#38983a"/>
<ellipse cx="345.2" cy="467.1" rx="2.2" ry="1.9" stroke="#38983a"/>
<ellipse cx="370.7" cy="468.8" rx="2.2" ry="1.9" stroke="#38983a"/>
<ellipse cx="344.8" cy="477.5" rx="2.2" ry="1.9" stroke="#38983a"/>
<ellipse cx="341.7" cy="474.0" rx="2.2" ry="1.9" stroke="#38983a"/>
<ellipse cx="315.0" cy="455.5" rx="2.2" ry="1.9" stroke="#3030ee"/>
<ellipse cx="321.3" cy="459.7" rx="2.2" ry="1.9" stroke="#3030ee"/>
<ellipse cx="328.3" cy="463.0" rx="2.2" ry="1.9" stroke="#3030ee"/>
<ellipse cx="322.7" cy="465.6" rx="2.2" ry="1.9" stroke="#3030ee"/>
<ellipse cx="324.0" cy="467.3" rx="2.2" ry="1.9" stroke="#3030ee"/>
<ellipse cx="318.8" cy="468.6" rx="2.2" ry="1.9" stroke="#3030ee"/>
<ellipse cx="315.8" cy="474.2" rx="2.2" ry="1.9" stroke="#3030ee"/>
<ellipse cx="321.8" cy="472.9" rx="2.2" ry="1.9" stroke="#3030ee"/>
<ellipse cx="323.1" cy="475.9" rx="2.2" ry="1.9" stroke="#3030ee"/>
<ellipse cx="320.5" cy="475.5" rx="2.2" ry="1.9" stroke="#3030ee"/>
<ellipse cx="326.6" cy="472.5" rx="2.2" ry="1.9" stroke="#3030ee"/>
<ellipse cx="328.7" cy="474.2" rx="2.2" ry="1.9" stroke="#3030ee"/>
<ellipse cx="330.9" cy="477.2" rx="2.2" ry="1.9" stroke="#3030ee"/>
<ellipse cx="333.9" cy="473.3" rx="2.2" ry="1.9" stroke="#3030ee"/>
<ellipse cx="333.1" cy="477.6" rx="2.2" ry="1.9" stroke="#3030ee"/>
<ellipse cx="339.5" cy="479.8" rx="2.2" ry="1.9" stroke="#3030ee"/>
<ellipse cx="322.7" cy="482.0" rx="2.2" ry="1.9" stroke="#3030ee"/>
<ellipse cx="327.0" cy="484.1" rx="2.2" ry="1.9" stroke="#3030ee"/>
<ellipse cx="325.7" cy="487.1" rx="2.2" ry="1.9" stroke="#3030ee"/>
<ellipse cx="328.3" cy="491.0" rx="2.2" ry="1.9" stroke="#3030ee"/>
<ellipse cx="317.9" cy="491.0" rx="2.2" ry="1.9" stroke="#3030ee"/>
<ellipse cx="335.2" cy="482.4" rx="2.2" ry="1.9" stroke="#3030ee"/>
<ellipse cx="339.1" cy="485.4" rx="2.2" ry="1.9" stroke="#3030ee"/>
</g>
<line x1="293.34" y1="521.11" x2="448.06" y2="379.29" stroke="#f04050" stroke-width="1.05" stroke-dasharray="2.6 0.9"/>
<rect x="285.60" y="372.20" width="170.20" height="156.00" fill="none" stroke="#686868" stroke-width="1.4"/>
<g stroke="#686868" stroke-width="1.0">
<line x1="293.34" y1="528.20" x2="293.34" y2="525.60"/>
<line x1="332.02" y1="528.20" x2="332.02" y2="525.60"/>
<line x1="370.70" y1="528.20" x2="370.70" y2="525.60"/>
<line x1="409.38" y1="528.20" x2="409.38" y2="525.60"/>
<line x1="448.06" y1="528.20" x2="448.06" y2="525.60"/>
<line x1="285.60" y1="521.11" x2="288.20" y2="521.11"/>
<line x1="285.60" y1="503.38" x2="288.20" y2="503.38"/>
<line x1="285.60" y1="485.65" x2="288.20" y2="485.65"/>
<line x1="285.60" y1="467.93" x2="288.20" y2="467.93"/>
<line x1="285.60" y1="450.20" x2="288.20" y2="450.20"/>
<line x1="285.60" y1="432.47" x2="288.20" y2="432.47"/>
<line x1="285.60" y1="414.75" x2="288.20" y2="414.75"/>
<line x1="285.60" y1="397.02" x2="288.20" y2="397.02"/>
<line x1="285.60" y1="379.29" x2="288.20" y2="379.29"/>
</g>
<g font-size="5.9" text-anchor="middle" class="tk">
<text transform="translate(293.64,534.70) scale(1.03,1)">0.0</text>
<text transform="translate(332.32,534.70) scale(1.03,1)">0.5</text>
<text transform="translate(371.00,534.70) scale(1.03,1)">1.0</text>
<text transform="translate(409.68,534.70) scale(1.03,1)">1.5</text>
<text transform="translate(448.36,534.70) scale(1.03,1)">2.0</text>
</g><g font-size="5.9" text-anchor="end" class="tk">
<text transform="translate(283.00,522.91) scale(1.03,1)">0.00</text>
<text transform="translate(283.00,505.18) scale(1.03,1)">0.25</text>
<text transform="translate(283.00,487.45) scale(1.03,1)">0.50</text>
<text transform="translate(283.00,469.73) scale(1.03,1)">0.75</text>
<text transform="translate(283.00,452.00) scale(1.03,1)">1.00</text>
<text transform="translate(283.00,434.27) scale(1.03,1)">1.25</text>
<text transform="translate(283.00,416.55) scale(1.03,1)">1.50</text>
<text transform="translate(283.00,398.82) scale(1.03,1)">1.75</text>
<text transform="translate(283.00,381.09) scale(1.03,1)">2.00</text>
</g>
<text transform="translate(370.80,544.90) scale(1.078,1)" font-size="9.5" text-anchor="middle">Measured TN (g/kg)</text>
<text transform="translate(268.20,450.50) rotate(-90) scale(1,1.0)" font-size="9.73" text-anchor="middle">Predicted TN (g/kg)</text>
<line x1="393.00" y1="467.60" x2="408.90" y2="467.60" stroke="#f04050" stroke-width="1.05" stroke-dasharray="2.6 0.9"/>
<g font-size="6.7"><text transform="translate(414.50,469.50) scale(1.17,1)">y = x</text>
<text transform="translate(414.50,479.50) scale(1.17,1)">0–10 cm</text>
<text transform="translate(414.50,489.50) scale(1.17,1)">10–20 cm</text>
<text transform="translate(414.50,499.50) scale(1.17,1)">20–40 cm</text>
<text transform="translate(414.50,509.50) scale(1.17,1)">40–70 cm</text>
<text transform="translate(414.50,519.50) scale(1.17,1)">70–100 cm</text>
</g><g fill="none" stroke-width="1.1">
<ellipse cx="400.9" cy="477.6" rx="2.2" ry="1.9" stroke="#e8303c"/>
<ellipse cx="400.9" cy="487.6" rx="2.2" ry="1.9" stroke="#9050b0"/>
<ellipse cx="400.9" cy="497.6" rx="2.2" ry="1.9" stroke="#48e0d0"/>
<ellipse cx="400.9" cy="507.6" rx="2.2" ry="1.9" stroke="#38983a"/>
<ellipse cx="400.9" cy="517.6" rx="2.2" ry="1.9" stroke="#3030ee"/>
</g>
<text transform="translate(16.4,459.90) rotate(-90)" font-size="13.85" text-anchor="middle">0–40 cm vis-NIR</text>
</svg>
</body></html>
